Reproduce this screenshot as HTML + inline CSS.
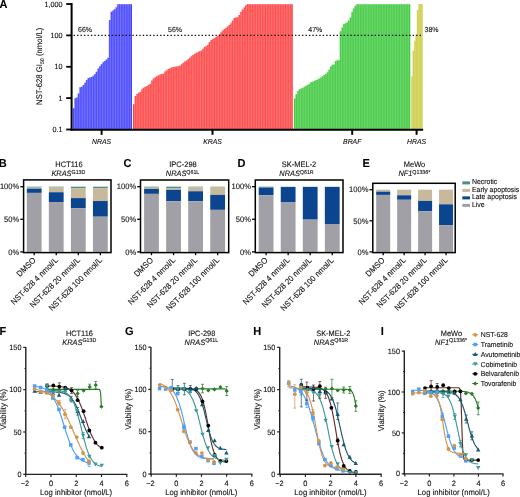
<!DOCTYPE html>
<html><head><meta charset="utf-8"><style>
html,body{margin:0;padding:0;background:#fff;width:520px;height:497px;overflow:hidden}
svg{display:block;will-change:transform}
text{font-family:"Liberation Sans", sans-serif;text-rendering:geometricPrecision;stroke:#111;stroke-width:0.1px}
</style></head><body>
<svg width="520" height="497" viewBox="0 0 520 497">
<text x="-0.40" y="7.90" font-size="11" text-anchor="start" fill="#000" font-weight="bold" font-style="normal" transform="translate(-0.40 7.90) scale(1 1.05) translate(0.40 -7.90)" >A</text>
<path d="M72.80,129.0 L72.80,108.30 L74.44,108.30 L74.44,98.31 L76.09,98.31 L76.09,97.44 L77.73,97.44 L77.73,93.62 L79.38,93.62 L79.38,87.37 L81.02,87.37 L81.02,86.76 L82.67,86.76 L82.67,85.11 L84.31,85.11 L84.31,82.74 L85.96,82.74 L85.96,80.07 L87.60,80.07 L87.60,77.92 L89.24,77.92 L89.24,77.52 L90.89,77.52 L90.89,76.99 L92.53,76.99 L92.53,75.87 L94.18,75.87 L94.18,74.05 L95.82,74.05 L95.82,71.70 L97.47,71.70 L97.47,68.52 L99.11,68.52 L99.11,66.35 L100.76,66.35 L100.76,64.22 L102.40,64.22 L102.40,62.24 L104.04,62.24 L104.04,61.08 L105.69,61.08 L105.69,59.59 L107.33,59.59 L107.33,57.69 L108.98,57.69 L108.98,19.90 L110.62,19.90 L110.62,11.82 L112.27,11.82 L112.27,10.47 L113.91,10.47 L113.91,9.22 L115.56,9.22 L115.56,7.18 L117.20,7.18 L117.20,4.20 L118.84,4.20 L118.84,4.20 L120.49,4.20 L120.49,4.20 L122.13,4.20 L122.13,4.20 L123.78,4.20 L123.78,4.20 L125.42,4.20 L125.42,4.20 L127.07,4.20 L127.07,4.20 L128.71,4.20 L128.71,4.20 L130.36,4.20 L130.36,4.20 L132.00,4.20 L132.00,129.0 Z" fill="#4242ff"/>
<path d="M74.44,98.31V129.0M76.09,97.44V129.0M77.73,93.62V129.0M79.38,87.37V129.0M81.02,86.76V129.0M82.67,85.11V129.0M84.31,82.74V129.0M85.96,80.07V129.0M87.60,77.92V129.0M89.24,77.52V129.0M90.89,76.99V129.0M92.53,75.87V129.0M94.18,74.05V129.0M95.82,71.70V129.0M97.47,68.52V129.0M99.11,66.35V129.0M100.76,64.22V129.0M102.40,62.24V129.0M104.04,61.08V129.0M105.69,59.59V129.0M107.33,57.69V129.0M108.98,19.90V129.0M110.62,11.82V129.0M112.27,10.47V129.0M113.91,9.22V129.0M115.56,7.18V129.0M117.20,4.20V129.0M118.84,4.20V129.0M120.49,4.20V129.0M122.13,4.20V129.0M123.78,4.20V129.0M125.42,4.20V129.0M127.07,4.20V129.0M128.71,4.20V129.0M130.36,4.20V129.0" stroke="#a8a8ff" stroke-width="0.5" fill="none"/>
<path d="M133.00,129.0 L133.00,104.20 L134.65,104.20 L134.65,96.05 L136.29,96.05 L136.29,93.98 L137.94,93.98 L137.94,92.83 L139.59,92.83 L139.59,92.12 L141.24,92.12 L141.24,89.36 L142.88,89.36 L142.88,87.83 L144.53,87.83 L144.53,86.81 L146.18,86.81 L146.18,85.97 L147.83,85.97 L147.83,85.05 L149.47,85.05 L149.47,83.99 L151.12,83.99 L151.12,80.56 L152.77,80.56 L152.77,78.62 L154.42,78.62 L154.42,77.34 L156.06,77.34 L156.06,76.24 L157.71,76.24 L157.71,75.26 L159.36,75.26 L159.36,74.54 L161.01,74.54 L161.01,74.08 L162.65,74.08 L162.65,73.68 L164.30,73.68 L164.30,71.53 L165.95,71.53 L165.95,70.19 L167.60,70.19 L167.60,69.09 L169.24,69.09 L169.24,68.24 L170.89,68.24 L170.89,67.44 L172.54,67.44 L172.54,67.10 L174.19,67.10 L174.19,66.85 L175.83,66.85 L175.83,66.61 L177.48,66.61 L177.48,66.36 L179.13,66.36 L179.13,65.71 L180.78,65.71 L180.78,64.26 L182.42,64.26 L182.42,62.87 L184.07,62.87 L184.07,61.56 L185.72,61.56 L185.72,60.41 L187.36,60.41 L187.36,59.15 L189.01,59.15 L189.01,57.64 L190.66,57.64 L190.66,56.16 L192.31,56.16 L192.31,54.93 L193.95,54.93 L193.95,53.80 L195.60,53.80 L195.60,52.84 L197.25,52.84 L197.25,51.93 L198.90,51.93 L198.90,51.19 L200.54,51.19 L200.54,50.45 L202.19,50.45 L202.19,48.65 L203.84,48.65 L203.84,46.94 L205.49,46.94 L205.49,45.90 L207.13,45.90 L207.13,44.85 L208.78,44.85 L208.78,42.09 L210.43,42.09 L210.43,40.12 L212.08,40.12 L212.08,38.94 L213.72,38.94 L213.72,37.88 L215.37,37.88 L215.37,36.96 L217.02,36.96 L217.02,36.04 L218.67,36.04 L218.67,34.56 L220.31,34.56 L220.31,32.33 L221.96,32.33 L221.96,30.43 L223.61,30.43 L223.61,29.05 L225.26,29.05 L225.26,27.74 L226.90,27.74 L226.90,26.38 L228.55,26.38 L228.55,25.00 L230.20,25.00 L230.20,23.36 L231.85,23.36 L231.85,20.58 L233.49,20.58 L233.49,17.97 L235.14,17.97 L235.14,17.55 L236.79,17.55 L236.79,17.13 L238.44,17.13 L238.44,15.00 L240.08,15.00 L240.08,11.96 L241.73,11.96 L241.73,9.61 L243.38,9.61 L243.38,7.44 L245.02,7.44 L245.02,5.46 L246.67,5.46 L246.67,4.20 L248.32,4.20 L248.32,4.20 L249.97,4.20 L249.97,4.20 L251.61,4.20 L251.61,4.20 L253.26,4.20 L253.26,4.20 L254.91,4.20 L254.91,4.20 L256.56,4.20 L256.56,4.20 L258.20,4.20 L258.20,4.20 L259.85,4.20 L259.85,4.20 L261.50,4.20 L261.50,4.20 L263.15,4.20 L263.15,4.20 L264.79,4.20 L264.79,4.20 L266.44,4.20 L266.44,4.20 L268.09,4.20 L268.09,4.20 L269.74,4.20 L269.74,4.20 L271.38,4.20 L271.38,4.20 L273.03,4.20 L273.03,4.20 L274.68,4.20 L274.68,4.20 L276.33,4.20 L276.33,4.20 L277.97,4.20 L277.97,4.20 L279.62,4.20 L279.62,4.20 L281.27,4.20 L281.27,4.20 L282.92,4.20 L282.92,4.20 L284.56,4.20 L284.56,4.20 L286.21,4.20 L286.21,4.20 L287.86,4.20 L287.86,4.20 L289.51,4.20 L289.51,4.20 L291.15,4.20 L291.15,4.20 L292.80,4.20 L292.80,129.0 Z" fill="#ff4242"/>
<path d="M134.65,96.05V129.0M136.29,93.98V129.0M137.94,92.83V129.0M139.59,92.12V129.0M141.24,89.36V129.0M142.88,87.83V129.0M144.53,86.81V129.0M146.18,85.97V129.0M147.83,85.05V129.0M149.47,83.99V129.0M151.12,80.56V129.0M152.77,78.62V129.0M154.42,77.34V129.0M156.06,76.24V129.0M157.71,75.26V129.0M159.36,74.54V129.0M161.01,74.08V129.0M162.65,73.68V129.0M164.30,71.53V129.0M165.95,70.19V129.0M167.60,69.09V129.0M169.24,68.24V129.0M170.89,67.44V129.0M172.54,67.10V129.0M174.19,66.85V129.0M175.83,66.61V129.0M177.48,66.36V129.0M179.13,65.71V129.0M180.78,64.26V129.0M182.42,62.87V129.0M184.07,61.56V129.0M185.72,60.41V129.0M187.36,59.15V129.0M189.01,57.64V129.0M190.66,56.16V129.0M192.31,54.93V129.0M193.95,53.80V129.0M195.60,52.84V129.0M197.25,51.93V129.0M198.90,51.19V129.0M200.54,50.45V129.0M202.19,48.65V129.0M203.84,46.94V129.0M205.49,45.90V129.0M207.13,44.85V129.0M208.78,42.09V129.0M210.43,40.12V129.0M212.08,38.94V129.0M213.72,37.88V129.0M215.37,36.96V129.0M217.02,36.04V129.0M218.67,34.56V129.0M220.31,32.33V129.0M221.96,30.43V129.0M223.61,29.05V129.0M225.26,27.74V129.0M226.90,26.38V129.0M228.55,25.00V129.0M230.20,23.36V129.0M231.85,20.58V129.0M233.49,17.97V129.0M235.14,17.55V129.0M236.79,17.13V129.0M238.44,15.00V129.0M240.08,11.96V129.0M241.73,9.61V129.0M243.38,7.44V129.0M245.02,5.46V129.0M246.67,4.20V129.0M248.32,4.20V129.0M249.97,4.20V129.0M251.61,4.20V129.0M253.26,4.20V129.0M254.91,4.20V129.0M256.56,4.20V129.0M258.20,4.20V129.0M259.85,4.20V129.0M261.50,4.20V129.0M263.15,4.20V129.0M264.79,4.20V129.0M266.44,4.20V129.0M268.09,4.20V129.0M269.74,4.20V129.0M271.38,4.20V129.0M273.03,4.20V129.0M274.68,4.20V129.0M276.33,4.20V129.0M277.97,4.20V129.0M279.62,4.20V129.0M281.27,4.20V129.0M282.92,4.20V129.0M284.56,4.20V129.0M286.21,4.20V129.0M287.86,4.20V129.0M289.51,4.20V129.0M291.15,4.20V129.0" stroke="#ffa8a8" stroke-width="0.5" fill="none"/>
<path d="M293.90,129.0 L293.90,98.60 L295.54,98.60 L295.54,94.32 L297.18,94.32 L297.18,91.00 L298.82,91.00 L298.82,89.20 L300.46,89.20 L300.46,88.39 L302.10,88.39 L302.10,87.75 L303.74,87.75 L303.74,86.69 L305.38,86.69 L305.38,85.73 L307.02,85.73 L307.02,85.08 L308.65,85.08 L308.65,83.68 L310.29,83.68 L310.29,82.08 L311.93,82.08 L311.93,81.72 L313.57,81.72 L313.57,81.12 L315.21,81.12 L315.21,80.09 L316.85,80.09 L316.85,79.38 L318.49,79.38 L318.49,78.59 L320.13,78.59 L320.13,77.47 L321.77,77.47 L321.77,76.20 L323.41,76.20 L323.41,74.93 L325.05,74.93 L325.05,73.88 L326.69,73.88 L326.69,72.20 L328.33,72.20 L328.33,69.64 L329.97,69.64 L329.97,66.43 L331.61,66.43 L331.61,64.75 L333.25,64.75 L333.25,64.47 L334.89,64.47 L334.89,60.97 L336.53,60.97 L336.53,60.30 L338.16,60.30 L338.16,60.20 L339.80,60.20 L339.80,31.30 L341.44,31.30 L341.44,27.57 L343.08,27.57 L343.08,23.94 L344.72,23.94 L344.72,23.35 L346.36,23.35 L346.36,22.30 L348.00,22.30 L348.00,20.61 L349.64,20.61 L349.64,17.50 L351.28,17.50 L351.28,11.70 L352.92,11.70 L352.92,8.57 L354.56,8.57 L354.56,5.66 L356.20,5.66 L356.20,4.20 L357.84,4.20 L357.84,4.20 L359.48,4.20 L359.48,4.20 L361.12,4.20 L361.12,4.20 L362.76,4.20 L362.76,4.20 L364.40,4.20 L364.40,4.20 L366.04,4.20 L366.04,4.20 L367.67,4.20 L367.67,4.20 L369.31,4.20 L369.31,4.20 L370.95,4.20 L370.95,4.20 L372.59,4.20 L372.59,4.20 L374.23,4.20 L374.23,4.20 L375.87,4.20 L375.87,4.20 L377.51,4.20 L377.51,4.20 L379.15,4.20 L379.15,4.20 L380.79,4.20 L380.79,4.20 L382.43,4.20 L382.43,4.20 L384.07,4.20 L384.07,4.20 L385.71,4.20 L385.71,4.20 L387.35,4.20 L387.35,4.20 L388.99,4.20 L388.99,4.20 L390.63,4.20 L390.63,4.20 L392.27,4.20 L392.27,4.20 L393.91,4.20 L393.91,4.20 L395.55,4.20 L395.55,4.20 L397.18,4.20 L397.18,4.20 L398.82,4.20 L398.82,4.20 L400.46,4.20 L400.46,4.20 L402.10,4.20 L402.10,4.20 L403.74,4.20 L403.74,4.20 L405.38,4.20 L405.38,4.20 L407.02,4.20 L407.02,4.20 L408.66,4.20 L408.66,4.20 L410.30,4.20 L410.30,129.0 Z" fill="#3fc93f"/>
<path d="M295.54,94.32V129.0M297.18,91.00V129.0M298.82,89.20V129.0M300.46,88.39V129.0M302.10,87.75V129.0M303.74,86.69V129.0M305.38,85.73V129.0M307.02,85.08V129.0M308.65,83.68V129.0M310.29,82.08V129.0M311.93,81.72V129.0M313.57,81.12V129.0M315.21,80.09V129.0M316.85,79.38V129.0M318.49,78.59V129.0M320.13,77.47V129.0M321.77,76.20V129.0M323.41,74.93V129.0M325.05,73.88V129.0M326.69,72.20V129.0M328.33,69.64V129.0M329.97,66.43V129.0M331.61,64.75V129.0M333.25,64.47V129.0M334.89,60.97V129.0M336.53,60.30V129.0M338.16,60.20V129.0M339.80,31.30V129.0M341.44,27.57V129.0M343.08,23.94V129.0M344.72,23.35V129.0M346.36,22.30V129.0M348.00,20.61V129.0M349.64,17.50V129.0M351.28,11.70V129.0M352.92,8.57V129.0M354.56,5.66V129.0M356.20,4.20V129.0M357.84,4.20V129.0M359.48,4.20V129.0M361.12,4.20V129.0M362.76,4.20V129.0M364.40,4.20V129.0M366.04,4.20V129.0M367.67,4.20V129.0M369.31,4.20V129.0M370.95,4.20V129.0M372.59,4.20V129.0M374.23,4.20V129.0M375.87,4.20V129.0M377.51,4.20V129.0M379.15,4.20V129.0M380.79,4.20V129.0M382.43,4.20V129.0M384.07,4.20V129.0M385.71,4.20V129.0M387.35,4.20V129.0M388.99,4.20V129.0M390.63,4.20V129.0M392.27,4.20V129.0M393.91,4.20V129.0M395.55,4.20V129.0M397.18,4.20V129.0M398.82,4.20V129.0M400.46,4.20V129.0M402.10,4.20V129.0M403.74,4.20V129.0M405.38,4.20V129.0M407.02,4.20V129.0M408.66,4.20V129.0" stroke="#a0e4a0" stroke-width="0.5" fill="none"/>
<path d="M411.3,129.0 L411.30,76.2 L412.73,76.2 L412.73,50.8 L414.15,50.8 L414.15,40.8 L415.57,40.8 L415.57,34.5 L417.00,34.5 L417.00,10 L418.43,10 L418.43,4.0 L419.85,4.0 L419.85,4.0 L421.27,4.0 L421.27,4.0 L422.70,4.0 L422.7,129.0 Z" fill="#cdcd4a"/>
<path d="M412.73,50.8V129.0M414.15,40.8V129.0M415.57,34.5V129.0M417.00,10V129.0M418.43,4.0V129.0M419.85,4.0V129.0M421.27,4.0V129.0" stroke="#e2e288" stroke-width="0.55" fill="none"/>
<line x1="73.6" y1="35.4" x2="423" y2="35.4" stroke="#111" stroke-width="1.3" stroke-dasharray="1.4 2.06"/>
<line x1="71.60" y1="3.00" x2="71.60" y2="130.60" stroke="#000" stroke-width="2" />
<line x1="70.60" y1="129.70" x2="423.20" y2="129.70" stroke="#000" stroke-width="2" />
<line x1="66.20" y1="4.00" x2="71.60" y2="4.00" stroke="#000" stroke-width="1.8" />
<text x="62.40" y="6.60" font-size="7.2" text-anchor="end" fill="#0e0e0e" font-weight="normal" font-style="normal" transform="translate(62.40 6.60) scale(1 1.05) translate(-62.40 -6.60)" >1,000</text>
<line x1="66.20" y1="35.40" x2="71.60" y2="35.40" stroke="#000" stroke-width="1.8" />
<text x="62.40" y="38.00" font-size="7.2" text-anchor="end" fill="#0e0e0e" font-weight="normal" font-style="normal" transform="translate(62.40 38.00) scale(1 1.05) translate(-62.40 -38.00)" >100</text>
<line x1="66.20" y1="66.80" x2="71.60" y2="66.80" stroke="#000" stroke-width="1.8" />
<text x="62.40" y="69.40" font-size="7.2" text-anchor="end" fill="#0e0e0e" font-weight="normal" font-style="normal" transform="translate(62.40 69.40) scale(1 1.05) translate(-62.40 -69.40)" >10</text>
<line x1="66.20" y1="98.10" x2="71.60" y2="98.10" stroke="#000" stroke-width="1.8" />
<text x="62.40" y="100.70" font-size="7.2" text-anchor="end" fill="#0e0e0e" font-weight="normal" font-style="normal" transform="translate(62.40 100.70) scale(1 1.05) translate(-62.40 -100.70)" >1</text>
<line x1="66.20" y1="129.50" x2="71.60" y2="129.50" stroke="#000" stroke-width="1.8" />
<text x="62.40" y="132.10" font-size="7.2" text-anchor="end" fill="#0e0e0e" font-weight="normal" font-style="normal" transform="translate(62.40 132.10) scale(1 1.05) translate(-62.40 -132.10)" >0.1</text>
<text x="42.30" y="66.30" font-size="7.75" text-anchor="middle" fill="#0e0e0e" font-weight="normal" font-style="normal" transform="rotate(-90 42.30 66.30) translate(42.30 66.30) scale(1 1.05) translate(-42.30 -66.30)" >NST-628 GI<tspan font-size="5.2" dy="1.8">50</tspan><tspan dy="-1.8"> (nmol/L)</tspan></text>
<line x1="101.60" y1="130.00" x2="101.60" y2="134.80" stroke="#000" stroke-width="2" />
<text x="101.60" y="144.30" font-size="6.85" text-anchor="middle" fill="#0e0e0e" font-weight="normal" font-style="italic" transform="translate(101.60 144.30) scale(1 1.05) translate(-101.60 -144.30)" >NRAS</text>
<line x1="212.50" y1="130.00" x2="212.50" y2="134.80" stroke="#000" stroke-width="2" />
<text x="212.50" y="144.30" font-size="6.85" text-anchor="middle" fill="#0e0e0e" font-weight="normal" font-style="italic" transform="translate(212.50 144.30) scale(1 1.05) translate(-212.50 -144.30)" >KRAS</text>
<line x1="352.20" y1="130.00" x2="352.20" y2="134.80" stroke="#000" stroke-width="2" />
<text x="352.20" y="144.30" font-size="6.85" text-anchor="middle" fill="#0e0e0e" font-weight="normal" font-style="italic" transform="translate(352.20 144.30) scale(1 1.05) translate(-352.20 -144.30)" >BRAF</text>
<line x1="416.60" y1="130.00" x2="416.60" y2="134.80" stroke="#000" stroke-width="2" />
<text x="416.60" y="144.30" font-size="6.85" text-anchor="middle" fill="#0e0e0e" font-weight="normal" font-style="italic" transform="translate(416.60 144.30) scale(1 1.05) translate(-416.60 -144.30)" >HRAS</text>
<text x="85.00" y="31.70" font-size="7.0" text-anchor="middle" fill="#0e0e0e" font-weight="normal" font-style="normal" transform="translate(85.00 31.70) scale(1 1.05) translate(-85.00 -31.70)" >66%</text>
<text x="175.00" y="31.70" font-size="7.0" text-anchor="middle" fill="#0e0e0e" font-weight="normal" font-style="normal" transform="translate(175.00 31.70) scale(1 1.05) translate(-175.00 -31.70)" >56%</text>
<text x="315.30" y="31.70" font-size="7.0" text-anchor="middle" fill="#0e0e0e" font-weight="normal" font-style="normal" transform="translate(315.30 31.70) scale(1 1.05) translate(-315.30 -31.70)" >47%</text>
<text x="431.50" y="31.70" font-size="7.0" text-anchor="middle" fill="#0e0e0e" font-weight="normal" font-style="normal" transform="translate(431.50 31.70) scale(1 1.05) translate(-431.50 -31.70)" >38%</text>
<text x="-1.30" y="167.40" font-size="11" text-anchor="start" fill="#000" font-weight="bold" font-style="normal" transform="translate(-1.30 167.40) scale(1 1.05) translate(1.30 -167.40)" >B</text>
<text x="69.00" y="167.30" font-size="7.5" text-anchor="middle" fill="#0e0e0e" font-weight="normal" font-style="normal" transform="translate(69.00 167.30) scale(1 1.05) translate(-69.00 -167.30)" >HCT116</text>
<text x="51.40" y="175.90" font-size="7.4" text-anchor="start" fill="#0e0e0e" font-weight="normal" font-style="italic" transform="translate(51.40 175.90) scale(1 1.05) translate(-51.40 -175.90)" >KRAS<tspan font-size="5.3" font-style="normal" dy="-2.2">G13D</tspan></text>
<rect x="26.80" y="186.70" width="14.8" height="0.91" fill="#4a8f80"/>
<rect x="26.80" y="187.61" width="14.8" height="1.04" fill="#c8b89c"/>
<rect x="26.80" y="188.66" width="14.8" height="4.24" fill="#0b4590"/>
<rect x="26.80" y="192.89" width="14.8" height="59.01" fill="#a1a0a6"/>
<line x1="34.20" y1="252.60" x2="34.20" y2="255.20" stroke="#000" stroke-width="1.3" />
<text x="36.40" y="260.80" font-size="7.8" text-anchor="end" fill="#0e0e0e" font-weight="normal" font-style="normal" transform="rotate(-45 36.40 260.80) translate(36.40 260.80) scale(1 1.05) translate(-36.40 -260.80)" >DMSO</text>
<rect x="48.85" y="186.70" width="14.8" height="0.78" fill="#4a8f80"/>
<rect x="48.85" y="187.48" width="14.8" height="4.76" fill="#c8b89c"/>
<rect x="48.85" y="192.24" width="14.8" height="9.78" fill="#0b4590"/>
<rect x="48.85" y="202.02" width="14.8" height="49.88" fill="#a1a0a6"/>
<line x1="56.25" y1="252.60" x2="56.25" y2="255.20" stroke="#000" stroke-width="1.3" />
<text x="58.45" y="260.80" font-size="7.8" text-anchor="end" fill="#0e0e0e" font-weight="normal" font-style="normal" transform="rotate(-45 58.45 260.80) translate(58.45 260.80) scale(1 1.05) translate(-58.45 -260.80)" >NST-628 4 nmol/L</text>
<rect x="70.90" y="186.70" width="14.8" height="1.63" fill="#4a8f80"/>
<rect x="70.90" y="188.33" width="14.8" height="9.78" fill="#c8b89c"/>
<rect x="70.90" y="198.11" width="14.8" height="10.11" fill="#0b4590"/>
<rect x="70.90" y="208.22" width="14.8" height="43.68" fill="#a1a0a6"/>
<line x1="78.30" y1="252.60" x2="78.30" y2="255.20" stroke="#000" stroke-width="1.3" />
<text x="80.50" y="260.80" font-size="7.8" text-anchor="end" fill="#0e0e0e" font-weight="normal" font-style="normal" transform="rotate(-45 80.50 260.80) translate(80.50 260.80) scale(1 1.05) translate(-80.50 -260.80)" >NST-628 20 nmol/L</text>
<rect x="92.95" y="186.70" width="14.8" height="1.50" fill="#4a8f80"/>
<rect x="92.95" y="188.20" width="14.8" height="12.84" fill="#c8b89c"/>
<rect x="92.95" y="201.04" width="14.8" height="15.65" fill="#0b4590"/>
<rect x="92.95" y="216.69" width="14.8" height="35.21" fill="#a1a0a6"/>
<line x1="100.35" y1="252.60" x2="100.35" y2="255.20" stroke="#000" stroke-width="1.3" />
<text x="102.55" y="260.80" font-size="7.8" text-anchor="end" fill="#0e0e0e" font-weight="normal" font-style="normal" transform="rotate(-45 102.55 260.80) translate(102.55 260.80) scale(1 1.05) translate(-102.55 -260.80)" >NST-628 100 nmol/L</text>
<rect x="23.60" y="179.90" width="87.40" height="72.70" fill="none" stroke="#000" stroke-width="1.5"/>
<line x1="20.30" y1="251.90" x2="23.60" y2="251.90" stroke="#000" stroke-width="1.3" />
<text x="19.30" y="254.60" font-size="7.6" text-anchor="end" fill="#0e0e0e" font-weight="normal" font-style="normal" transform="translate(19.30 254.60) scale(1 1.05) translate(-19.30 -254.60)" >0%</text>
<line x1="20.30" y1="219.30" x2="23.60" y2="219.30" stroke="#000" stroke-width="1.3" />
<text x="19.30" y="222.00" font-size="7.6" text-anchor="end" fill="#0e0e0e" font-weight="normal" font-style="normal" transform="translate(19.30 222.00) scale(1 1.05) translate(-19.30 -222.00)" >50%</text>
<line x1="20.30" y1="186.70" x2="23.60" y2="186.70" stroke="#000" stroke-width="1.3" />
<text x="19.30" y="189.40" font-size="7.6" text-anchor="end" fill="#0e0e0e" font-weight="normal" font-style="normal" transform="translate(19.30 189.40) scale(1 1.05) translate(-19.30 -189.40)" >100%</text>
<text x="123.40" y="167.40" font-size="11" text-anchor="start" fill="#000" font-weight="bold" font-style="normal" transform="translate(123.40 167.40) scale(1 1.05) translate(-123.40 -167.40)" >C</text>
<text x="183.00" y="167.30" font-size="7.5" text-anchor="middle" fill="#0e0e0e" font-weight="normal" font-style="normal" transform="translate(183.00 167.30) scale(1 1.05) translate(-183.00 -167.30)" >IPC-298</text>
<text x="165.80" y="175.90" font-size="7.4" text-anchor="start" fill="#0e0e0e" font-weight="normal" font-style="italic" transform="translate(165.80 175.90) scale(1 1.05) translate(-165.80 -175.90)" >NRAS<tspan font-size="5.3" font-style="normal" dy="-2.2">Q61L</tspan></text>
<rect x="144.10" y="186.70" width="14.8" height="0.91" fill="#4a8f80"/>
<rect x="144.10" y="187.61" width="14.8" height="1.37" fill="#c8b89c"/>
<rect x="144.10" y="188.98" width="14.8" height="4.89" fill="#0b4590"/>
<rect x="144.10" y="193.87" width="14.8" height="58.03" fill="#a1a0a6"/>
<line x1="151.50" y1="252.60" x2="151.50" y2="255.20" stroke="#000" stroke-width="1.3" />
<text x="153.70" y="260.80" font-size="7.8" text-anchor="end" fill="#0e0e0e" font-weight="normal" font-style="normal" transform="rotate(-45 153.70 260.80) translate(153.70 260.80) scale(1 1.05) translate(-153.70 -260.80)" >DMSO</text>
<rect x="166.15" y="186.70" width="14.8" height="1.70" fill="#4a8f80"/>
<rect x="166.15" y="188.40" width="14.8" height="1.43" fill="#c8b89c"/>
<rect x="166.15" y="189.83" width="14.8" height="11.34" fill="#0b4590"/>
<rect x="166.15" y="201.17" width="14.8" height="50.73" fill="#a1a0a6"/>
<line x1="173.55" y1="252.60" x2="173.55" y2="255.20" stroke="#000" stroke-width="1.3" />
<text x="175.75" y="260.80" font-size="7.8" text-anchor="end" fill="#0e0e0e" font-weight="normal" font-style="normal" transform="rotate(-45 175.75 260.80) translate(175.75 260.80) scale(1 1.05) translate(-175.75 -260.80)" >NST-628 4 nmol/L</text>
<rect x="188.20" y="186.70" width="14.8" height="0.72" fill="#4a8f80"/>
<rect x="188.20" y="187.42" width="14.8" height="3.85" fill="#c8b89c"/>
<rect x="188.20" y="191.26" width="14.8" height="9.91" fill="#0b4590"/>
<rect x="188.20" y="201.17" width="14.8" height="50.73" fill="#a1a0a6"/>
<line x1="195.60" y1="252.60" x2="195.60" y2="255.20" stroke="#000" stroke-width="1.3" />
<text x="197.80" y="260.80" font-size="7.8" text-anchor="end" fill="#0e0e0e" font-weight="normal" font-style="normal" transform="rotate(-45 197.80 260.80) translate(197.80 260.80) scale(1 1.05) translate(-197.80 -260.80)" >NST-628 20 nmol/L</text>
<rect x="210.25" y="186.70" width="14.8" height="0.26" fill="#4a8f80"/>
<rect x="210.25" y="186.96" width="14.8" height="7.89" fill="#c8b89c"/>
<rect x="210.25" y="194.85" width="14.8" height="15.00" fill="#0b4590"/>
<rect x="210.25" y="209.85" width="14.8" height="42.05" fill="#a1a0a6"/>
<line x1="217.65" y1="252.60" x2="217.65" y2="255.20" stroke="#000" stroke-width="1.3" />
<text x="219.85" y="260.80" font-size="7.8" text-anchor="end" fill="#0e0e0e" font-weight="normal" font-style="normal" transform="rotate(-45 219.85 260.80) translate(219.85 260.80) scale(1 1.05) translate(-219.85 -260.80)" >NST-628 100 nmol/L</text>
<rect x="140.50" y="180.00" width="88.20" height="72.60" fill="none" stroke="#000" stroke-width="1.5"/>
<line x1="137.20" y1="251.90" x2="140.50" y2="251.90" stroke="#000" stroke-width="1.3" />
<text x="136.20" y="254.60" font-size="7.6" text-anchor="end" fill="#0e0e0e" font-weight="normal" font-style="normal" transform="translate(136.20 254.60) scale(1 1.05) translate(-136.20 -254.60)" >0%</text>
<line x1="137.20" y1="219.30" x2="140.50" y2="219.30" stroke="#000" stroke-width="1.3" />
<text x="136.20" y="222.00" font-size="7.6" text-anchor="end" fill="#0e0e0e" font-weight="normal" font-style="normal" transform="translate(136.20 222.00) scale(1 1.05) translate(-136.20 -222.00)" >50%</text>
<line x1="137.20" y1="186.70" x2="140.50" y2="186.70" stroke="#000" stroke-width="1.3" />
<text x="136.20" y="189.40" font-size="7.6" text-anchor="end" fill="#0e0e0e" font-weight="normal" font-style="normal" transform="translate(136.20 189.40) scale(1 1.05) translate(-136.20 -189.40)" >100%</text>
<text x="237.40" y="167.40" font-size="11" text-anchor="start" fill="#000" font-weight="bold" font-style="normal" transform="translate(237.40 167.40) scale(1 1.05) translate(-237.40 -167.40)" >D</text>
<text x="299.00" y="167.30" font-size="7.5" text-anchor="middle" fill="#0e0e0e" font-weight="normal" font-style="normal" transform="translate(299.00 167.30) scale(1 1.05) translate(-299.00 -167.30)" >SK-MEL-2</text>
<text x="279.30" y="175.90" font-size="7.4" text-anchor="start" fill="#0e0e0e" font-weight="normal" font-style="italic" transform="translate(279.30 175.90) scale(1 1.05) translate(-279.30 -175.90)" >NRAS<tspan font-size="5.3" font-style="normal" dy="-2.2">Q61R</tspan></text>
<rect x="258.70" y="186.70" width="14.8" height="0.33" fill="#4a8f80"/>
<rect x="258.70" y="187.03" width="14.8" height="0.46" fill="#c8b89c"/>
<rect x="258.70" y="187.48" width="14.8" height="7.69" fill="#0b4590"/>
<rect x="258.70" y="195.18" width="14.8" height="56.72" fill="#a1a0a6"/>
<line x1="266.10" y1="252.60" x2="266.10" y2="255.20" stroke="#000" stroke-width="1.3" />
<text x="268.30" y="260.80" font-size="7.8" text-anchor="end" fill="#0e0e0e" font-weight="normal" font-style="normal" transform="rotate(-45 268.30 260.80) translate(268.30 260.80) scale(1 1.05) translate(-268.30 -260.80)" >DMSO</text>
<rect x="280.75" y="186.70" width="14.8" height="0.20" fill="#4a8f80"/>
<rect x="280.75" y="186.90" width="14.8" height="0.13" fill="#c8b89c"/>
<rect x="280.75" y="187.03" width="14.8" height="15.39" fill="#0b4590"/>
<rect x="280.75" y="202.41" width="14.8" height="49.49" fill="#a1a0a6"/>
<line x1="288.15" y1="252.60" x2="288.15" y2="255.20" stroke="#000" stroke-width="1.3" />
<text x="290.35" y="260.80" font-size="7.8" text-anchor="end" fill="#0e0e0e" font-weight="normal" font-style="normal" transform="rotate(-45 290.35 260.80) translate(290.35 260.80) scale(1 1.05) translate(-290.35 -260.80)" >NST-628 4 nmol/L</text>
<rect x="302.80" y="186.70" width="14.8" height="0.13" fill="#4a8f80"/>
<rect x="302.80" y="186.83" width="14.8" height="0.13" fill="#c8b89c"/>
<rect x="302.80" y="186.96" width="14.8" height="32.67" fill="#0b4590"/>
<rect x="302.80" y="219.63" width="14.8" height="32.27" fill="#a1a0a6"/>
<line x1="310.20" y1="252.60" x2="310.20" y2="255.20" stroke="#000" stroke-width="1.3" />
<text x="312.40" y="260.80" font-size="7.8" text-anchor="end" fill="#0e0e0e" font-weight="normal" font-style="normal" transform="rotate(-45 312.40 260.80) translate(312.40 260.80) scale(1 1.05) translate(-312.40 -260.80)" >NST-628 20 nmol/L</text>
<rect x="324.85" y="186.70" width="14.8" height="0.13" fill="#4a8f80"/>
<rect x="324.85" y="186.83" width="14.8" height="0.13" fill="#c8b89c"/>
<rect x="324.85" y="186.96" width="14.8" height="37.03" fill="#0b4590"/>
<rect x="324.85" y="223.99" width="14.8" height="27.91" fill="#a1a0a6"/>
<line x1="332.25" y1="252.60" x2="332.25" y2="255.20" stroke="#000" stroke-width="1.3" />
<text x="334.45" y="260.80" font-size="7.8" text-anchor="end" fill="#0e0e0e" font-weight="normal" font-style="normal" transform="rotate(-45 334.45 260.80) translate(334.45 260.80) scale(1 1.05) translate(-334.45 -260.80)" >NST-628 100 nmol/L</text>
<rect x="255.30" y="180.00" width="87.70" height="72.60" fill="none" stroke="#000" stroke-width="1.5"/>
<line x1="252.00" y1="251.90" x2="255.30" y2="251.90" stroke="#000" stroke-width="1.3" />
<text x="251.00" y="254.60" font-size="7.6" text-anchor="end" fill="#0e0e0e" font-weight="normal" font-style="normal" transform="translate(251.00 254.60) scale(1 1.05) translate(-251.00 -254.60)" >0%</text>
<line x1="252.00" y1="219.30" x2="255.30" y2="219.30" stroke="#000" stroke-width="1.3" />
<text x="251.00" y="222.00" font-size="7.6" text-anchor="end" fill="#0e0e0e" font-weight="normal" font-style="normal" transform="translate(251.00 222.00) scale(1 1.05) translate(-251.00 -222.00)" >50%</text>
<line x1="252.00" y1="186.70" x2="255.30" y2="186.70" stroke="#000" stroke-width="1.3" />
<text x="251.00" y="189.40" font-size="7.6" text-anchor="end" fill="#0e0e0e" font-weight="normal" font-style="normal" transform="translate(251.00 189.40) scale(1 1.05) translate(-251.00 -189.40)" >100%</text>
<text x="362.60" y="167.40" font-size="11" text-anchor="start" fill="#000" font-weight="bold" font-style="normal" transform="translate(362.60 167.40) scale(1 1.05) translate(-362.60 -167.40)" >E</text>
<text x="414.50" y="167.30" font-size="7.5" text-anchor="middle" fill="#0e0e0e" font-weight="normal" font-style="normal" transform="translate(414.50 167.30) scale(1 1.05) translate(-414.50 -167.30)" >MeWo</text>
<text x="398.40" y="175.90" font-size="7.4" text-anchor="start" fill="#0e0e0e" font-weight="normal" font-style="italic" transform="translate(398.40 175.90) scale(1 1.05) translate(-398.40 -175.90)" >NF1<tspan font-size="5.3" font-style="normal" dy="-2.2">Q1336*</tspan></text>
<rect x="376.20" y="189.70" width="14.0" height="0.06" fill="#4a8f80"/>
<rect x="376.20" y="189.76" width="14.0" height="1.93" fill="#c8b89c"/>
<rect x="376.20" y="191.69" width="14.0" height="3.23" fill="#0b4590"/>
<rect x="376.20" y="194.92" width="14.0" height="56.98" fill="#a1a0a6"/>
<line x1="383.20" y1="252.60" x2="383.20" y2="255.20" stroke="#000" stroke-width="1.3" />
<text x="385.40" y="260.80" font-size="7.8" text-anchor="end" fill="#0e0e0e" font-weight="normal" font-style="normal" transform="rotate(-45 385.40 260.80) translate(385.40 260.80) scale(1 1.05) translate(-385.40 -260.80)" >DMSO</text>
<rect x="397.15" y="189.70" width="14.0" height="0.06" fill="#4a8f80"/>
<rect x="397.15" y="189.76" width="14.0" height="5.54" fill="#c8b89c"/>
<rect x="397.15" y="195.30" width="14.0" height="4.48" fill="#0b4590"/>
<rect x="397.15" y="199.78" width="14.0" height="52.12" fill="#a1a0a6"/>
<line x1="404.15" y1="252.60" x2="404.15" y2="255.20" stroke="#000" stroke-width="1.3" />
<text x="406.35" y="260.80" font-size="7.8" text-anchor="end" fill="#0e0e0e" font-weight="normal" font-style="normal" transform="rotate(-45 406.35 260.80) translate(406.35 260.80) scale(1 1.05) translate(-406.35 -260.80)" >NST-628 4 nmol/L</text>
<rect x="418.10" y="189.70" width="14.0" height="0.06" fill="#4a8f80"/>
<rect x="418.10" y="189.76" width="14.0" height="11.13" fill="#c8b89c"/>
<rect x="418.10" y="200.90" width="14.0" height="10.45" fill="#0b4590"/>
<rect x="418.10" y="211.35" width="14.0" height="40.55" fill="#a1a0a6"/>
<line x1="425.10" y1="252.60" x2="425.10" y2="255.20" stroke="#000" stroke-width="1.3" />
<text x="427.30" y="260.80" font-size="7.8" text-anchor="end" fill="#0e0e0e" font-weight="normal" font-style="normal" transform="rotate(-45 427.30 260.80) translate(427.30 260.80) scale(1 1.05) translate(-427.30 -260.80)" >NST-628 20 nmol/L</text>
<rect x="439.05" y="189.70" width="14.0" height="0.06" fill="#4a8f80"/>
<rect x="439.05" y="189.76" width="14.0" height="14.55" fill="#c8b89c"/>
<rect x="439.05" y="204.32" width="14.0" height="20.84" fill="#0b4590"/>
<rect x="439.05" y="225.15" width="14.0" height="26.75" fill="#a1a0a6"/>
<line x1="446.05" y1="252.60" x2="446.05" y2="255.20" stroke="#000" stroke-width="1.3" />
<text x="448.25" y="260.80" font-size="7.8" text-anchor="end" fill="#0e0e0e" font-weight="normal" font-style="normal" transform="rotate(-45 448.25 260.80) translate(448.25 260.80) scale(1 1.05) translate(-448.25 -260.80)" >NST-628 100 nmol/L</text>
<rect x="372.80" y="183.30" width="82.40" height="69.30" fill="none" stroke="#000" stroke-width="1.5"/>
<line x1="369.50" y1="251.90" x2="372.80" y2="251.90" stroke="#000" stroke-width="1.3" />
<text x="368.50" y="254.60" font-size="7.6" text-anchor="end" fill="#0e0e0e" font-weight="normal" font-style="normal" transform="translate(368.50 254.60) scale(1 1.05) translate(-368.50 -254.60)" >0%</text>
<line x1="369.50" y1="220.80" x2="372.80" y2="220.80" stroke="#000" stroke-width="1.3" />
<text x="368.50" y="223.50" font-size="7.6" text-anchor="end" fill="#0e0e0e" font-weight="normal" font-style="normal" transform="translate(368.50 223.50) scale(1 1.05) translate(-368.50 -223.50)" >50%</text>
<line x1="369.50" y1="189.70" x2="372.80" y2="189.70" stroke="#000" stroke-width="1.3" />
<text x="368.50" y="192.40" font-size="7.6" text-anchor="end" fill="#0e0e0e" font-weight="normal" font-style="normal" transform="translate(368.50 192.40) scale(1 1.05) translate(-368.50 -192.40)" >100%</text>
<rect x="462.3" y="181.40" width="7.7" height="3.0" fill="#4a8f80"/>
<text x="471.90" y="184.30" font-size="6.95" text-anchor="start" fill="#0e0e0e" font-weight="normal" font-style="normal" transform="translate(471.90 184.30) scale(1 1.05) translate(-471.90 -184.30)" >Necrotic</text>
<rect x="462.3" y="188.90" width="7.7" height="3.0" fill="#c8b89c"/>
<text x="471.90" y="191.80" font-size="6.95" text-anchor="start" fill="#0e0e0e" font-weight="normal" font-style="normal" transform="translate(471.90 191.80) scale(1 1.05) translate(-471.90 -191.80)" >Early apoptosis</text>
<rect x="462.3" y="196.40" width="7.7" height="3.0" fill="#0b4590"/>
<text x="471.90" y="199.30" font-size="6.95" text-anchor="start" fill="#0e0e0e" font-weight="normal" font-style="normal" transform="translate(471.90 199.30) scale(1 1.05) translate(-471.90 -199.30)" >Late apoptosis</text>
<rect x="462.3" y="203.90" width="7.7" height="3.0" fill="#a1a0a6"/>
<text x="471.90" y="206.80" font-size="6.95" text-anchor="start" fill="#0e0e0e" font-weight="normal" font-style="normal" transform="translate(471.90 206.80) scale(1 1.05) translate(-471.90 -206.80)" >Live</text>
<text x="-0.60" y="335.20" font-size="11" text-anchor="start" fill="#000" font-weight="bold" font-style="normal" transform="translate(-0.60 335.20) scale(1 1.05) translate(0.60 -335.20)" >F</text>
<text x="79.40" y="336.30" font-size="7.4" text-anchor="middle" fill="#0e0e0e" font-weight="normal" font-style="normal" transform="translate(79.40 336.30) scale(1 1.05) translate(-79.40 -336.30)" >HCT116</text>
<text x="62.30" y="345.40" font-size="7.4" text-anchor="start" fill="#0e0e0e" font-weight="normal" font-style="italic" transform="translate(62.30 345.40) scale(1 1.05) translate(-62.30 -345.40)" >KRAS<tspan font-size="5.3" font-style="normal" dy="-3.1">G13D</tspan></text>
<path d="M47.1,389.4 L47.9,389.4 L48.7,389.4 L49.5,389.4 L50.2,389.4 L51.0,389.4 L51.8,389.4 L52.6,389.4 L53.4,389.4 L54.2,389.4 L55.0,389.4 L55.8,389.4 L56.5,389.4 L57.3,389.4 L58.1,389.4 L58.9,389.4 L59.7,389.4 L60.5,389.4 L61.3,389.4 L62.1,389.4 L62.8,389.4 L63.6,389.4 L64.4,389.4 L65.2,389.4 L66.0,389.4 L66.8,389.4 L67.6,389.4 L68.3,389.4 L69.1,389.4 L69.9,389.4 L70.7,389.4 L71.5,389.4 L72.3,389.4 L73.1,389.4 L73.9,389.4 L74.6,389.4 L75.4,389.4 L76.2,389.4 L77.0,389.4 L77.8,389.4 L78.6,389.4 L79.4,389.4 L80.2,389.4 L80.9,389.4 L81.7,389.4 L82.5,389.4 L83.3,389.4 L84.1,389.4 L84.9,389.4 L85.7,389.4 L86.4,389.4 L87.2,389.4 L88.0,389.4 L88.8,389.4 L89.6,389.4 L90.4,389.4 L91.2,389.4 L92.0,389.4 L92.7,389.4 L93.5,389.4 L94.3,389.4 L95.1,389.4 L95.9,389.4 L96.7,389.4 L97.5,389.4 L98.3,389.4 L99.0,389.4 L99.8,389.7 L100.6,393.0 L101.4,406.7" fill="none" stroke="#2a7a2a" stroke-width="1.15"/>
<path d="M47.1,385.9 L47.9,386.0 L48.7,386.0 L49.5,386.0 L50.3,386.0 L51.1,386.0 L51.9,386.0 L52.6,386.1 L53.4,386.1 L54.2,386.1 L55.0,386.1 L55.8,386.2 L56.6,386.2 L57.4,386.3 L58.2,386.4 L59.0,386.4 L59.8,386.5 L60.6,386.6 L61.4,386.7 L62.2,386.8 L63.0,387.0 L63.7,387.1 L64.5,387.3 L65.3,387.5 L66.1,387.8 L66.9,388.1 L67.7,388.4 L68.5,388.8 L69.3,389.2 L70.1,389.7 L70.9,390.2 L71.7,390.9 L72.5,391.6 L73.3,392.4 L74.1,393.2 L74.8,394.2 L75.6,395.3 L76.4,396.6 L77.2,397.9 L78.0,399.4 L78.8,401.0 L79.6,402.7 L80.4,404.6 L81.2,406.5 L82.0,408.6 L82.8,410.8 L83.6,413.1 L84.4,415.4 L85.2,417.7 L85.9,420.1 L86.7,422.4 L87.5,424.7 L88.3,427.0 L89.1,429.1 L89.9,431.2 L90.7,433.2 L91.5,435.0 L92.3,436.7 L93.1,438.3 L93.9,439.7 L94.7,441.1 L95.5,442.3 L96.3,443.3 L97.0,444.3 L97.8,445.2 L98.6,446.0 L99.4,446.6 L100.2,447.2 L101.0,447.8 L101.8,448.3" fill="none" stroke="#6b2a2a" stroke-width="1.15"/>
<path d="M34.6,391.7 L35.4,391.7 L36.2,391.7 L37.0,391.7 L37.8,391.7 L38.5,391.7 L39.3,391.7 L40.1,391.7 L40.9,391.7 L41.7,391.7 L42.5,391.7 L43.3,391.7 L44.1,391.7 L44.8,391.7 L45.6,391.7 L46.4,391.7 L47.2,391.7 L48.0,391.7 L48.8,391.7 L49.6,391.8 L50.4,391.8 L51.2,391.8 L51.9,391.8 L52.7,391.8 L53.5,391.9 L54.3,391.9 L55.1,392.0 L55.9,392.0 L56.7,392.1 L57.5,392.1 L58.3,392.2 L59.0,392.3 L59.8,392.4 L60.6,392.5 L61.4,392.7 L62.2,392.9 L63.0,393.1 L63.8,393.3 L64.6,393.5 L65.3,393.9 L66.1,394.2 L66.9,394.6 L67.7,395.1 L68.5,395.6 L69.3,396.2 L70.1,396.9 L70.9,397.7 L71.7,398.6 L72.4,399.6 L73.2,400.7 L74.0,401.9 L74.8,403.3 L75.6,404.7 L76.4,406.3 L77.2,408.1 L78.0,409.9 L78.8,411.8 L79.5,413.8 L80.3,415.9 L81.1,418.0 L81.9,420.1 L82.7,422.2 L83.5,424.2 L84.3,426.2 L85.1,428.1 L85.8,429.9 L86.6,431.6 L87.4,433.2 L88.2,434.6 L89.0,436.0" fill="none" stroke="#1a5870" stroke-width="1.15"/>
<path d="M47.1,390.2 L47.9,390.2 L48.7,390.2 L49.5,390.2 L50.3,390.2 L51.1,390.2 L51.9,390.3 L52.6,390.3 L53.4,390.3 L54.2,390.4 L55.0,390.4 L55.8,390.5 L56.6,390.5 L57.4,390.6 L58.2,390.7 L59.0,390.8 L59.8,390.9 L60.6,391.0 L61.4,391.2 L62.2,391.4 L63.0,391.6 L63.7,391.9 L64.5,392.2 L65.3,392.6 L66.1,393.0 L66.9,393.6 L67.7,394.1 L68.5,394.8 L69.3,395.6 L70.1,396.6 L70.9,397.6 L71.7,398.9 L72.5,400.2 L73.3,401.8 L74.1,403.6 L74.8,405.6 L75.6,407.7 L76.4,410.1 L77.2,412.7 L78.0,415.5 L78.8,418.4 L79.6,421.5 L80.4,424.7 L81.2,427.9 L82.0,431.2 L82.8,434.4 L83.6,437.5 L84.4,440.5 L85.2,443.4 L85.9,446.1 L86.7,448.6 L87.5,450.9 L88.3,453.0 L89.1,454.9 L89.9,456.5 L90.7,458.0 L91.5,459.3 L92.3,460.5 L93.1,461.5 L93.9,462.3 L94.7,463.1 L95.5,463.7 L96.3,464.3 L97.0,464.8 L97.8,465.2 L98.6,465.5 L99.4,465.8 L100.2,466.1 L101.0,466.3 L101.8,466.5" fill="none" stroke="#3d9a96" stroke-width="1.15"/>
<path d="M34.6,386.4 L35.4,386.5 L36.2,386.6 L37.0,386.7 L37.8,386.8 L38.5,386.9 L39.3,387.1 L40.1,387.3 L40.9,387.5 L41.7,387.8 L42.5,388.0 L43.3,388.3 L44.1,388.7 L44.8,389.1 L45.6,389.5 L46.4,390.0 L47.2,390.6 L48.0,391.2 L48.8,391.9 L49.6,392.7 L50.4,393.5 L51.2,394.5 L51.9,395.5 L52.7,396.7 L53.5,398.0 L54.3,399.3 L55.1,400.9 L55.9,402.5 L56.7,404.3 L57.5,406.1 L58.3,408.1 L59.0,410.3 L59.8,412.5 L60.6,414.8 L61.4,417.2 L62.2,419.7 L63.0,422.2 L63.8,424.7 L64.6,427.2 L65.3,429.7 L66.1,432.2 L66.9,434.6 L67.7,436.9 L68.5,439.2 L69.3,441.3 L70.1,443.3 L70.9,445.3 L71.7,447.0 L72.4,448.7 L73.2,450.2 L74.0,451.7 L74.8,453.0 L75.6,454.1 L76.4,455.2 L77.2,456.2 L78.0,457.1 L78.8,457.9 L79.5,458.6 L80.3,459.2 L81.1,459.8 L81.9,460.3 L82.7,460.7 L83.5,461.2 L84.3,461.5 L85.1,461.8 L85.8,462.1 L86.6,462.4 L87.4,462.6 L88.2,462.8 L89.0,462.9" fill="none" stroke="#4d9fff" stroke-width="1.15"/>
<path d="M34.6,389.3 L35.4,389.4 L36.2,389.5 L37.0,389.7 L37.8,389.8 L38.5,390.0 L39.3,390.2 L40.1,390.4 L40.9,390.6 L41.7,390.8 L42.5,391.1 L43.3,391.4 L44.1,391.7 L44.8,392.0 L45.6,392.3 L46.4,392.7 L47.2,393.1 L48.0,393.5 L48.8,394.0 L49.6,394.5 L50.4,395.0 L51.2,395.5 L51.9,396.1 L52.7,396.8 L53.5,397.5 L54.3,398.2 L55.1,399.0 L55.9,399.8 L56.7,400.7 L57.5,401.6 L58.3,402.6 L59.0,403.7 L59.8,404.8 L60.6,405.9 L61.4,407.1 L62.2,408.4 L63.0,409.8 L63.8,411.1 L64.6,412.6 L65.3,414.1 L66.1,415.6 L66.9,417.2 L67.7,418.8 L68.5,420.5 L69.3,422.2 L70.1,424.0 L70.9,425.7 L71.7,427.5 L72.4,429.3 L73.2,431.2 L74.0,433.0 L74.8,434.8 L75.6,436.6 L76.4,438.4 L77.2,440.2 L78.0,441.9 L78.8,443.6 L79.5,445.3 L80.3,446.9 L81.1,448.5 L81.9,450.1 L82.7,451.6 L83.5,453.0 L84.3,454.4 L85.1,455.7 L85.8,457.0 L86.6,458.2 L87.4,459.4 L88.2,460.5 L89.0,461.5" fill="none" stroke="#d4944a" stroke-width="1.15"/>
<path d="M65.00,409.70V418.70M63.50,409.70H66.50M63.50,418.70H66.50" stroke="#d4944a" stroke-width="0.9" stroke-opacity="0.8" fill="none"/>
<path d="M59.00,400.50V405.30M57.50,400.50H60.50M57.50,405.30H60.50" stroke="#d4944a" stroke-width="0.9" stroke-opacity="0.8" fill="none"/>
<path d="M59.30,382.80V390.00M57.80,382.80H60.80M57.80,390.00H60.80" stroke="#6b2a2a" stroke-width="0.9" stroke-opacity="0.8" fill="none"/>
<path d="M71.60,387.60V393.60M70.10,387.60H73.10M70.10,393.60H73.10" stroke="#6b2a2a" stroke-width="0.9" stroke-opacity="0.8" fill="none"/>
<path d="M89.70,384.20V389.60M88.20,384.20H91.20M88.20,389.60H91.20" stroke="#2a7a2a" stroke-width="0.9" stroke-opacity="0.8" fill="none"/>
<path d="M95.70,381.40V388.80M94.20,381.40H97.20M94.20,388.80H97.20" stroke="#2a7a2a" stroke-width="0.9" stroke-opacity="0.8" fill="none"/>
<path d="M77.60,390.40V396.80M76.10,390.40H79.10M76.10,396.80H79.10" stroke="#2a7a2a" stroke-width="0.9" stroke-opacity="0.8" fill="none"/>
<path d="M83.20,432.50V438.50M81.70,432.50H84.70M81.70,438.50H84.70" stroke="#3d9a96" stroke-width="0.9" stroke-opacity="0.8" fill="none"/>
<path d="M89.00,460.00V466.50M87.50,460.00H90.50M87.50,466.50H90.50" stroke="#4d9fff" stroke-width="0.9" stroke-opacity="0.8" fill="none"/>
<path d="M77.60,407.50V415.00M76.10,407.50H79.10M76.10,415.00H79.10" stroke="#1a5870" stroke-width="0.9" stroke-opacity="0.8" fill="none"/>
<path d="M53.00,390.50V396.00M51.50,390.50H54.50M51.50,396.00H54.50" stroke="#1a5870" stroke-width="0.9" stroke-opacity="0.8" fill="none"/>
<path d="M47.10,383.50V388.50M45.60,383.50H48.60M45.60,388.50H48.60" stroke="#3d9a96" stroke-width="0.9" stroke-opacity="0.8" fill="none"/>
<path d="M71.30,396.30V402.00M69.80,396.30H72.80M69.80,402.00H72.80" stroke="#1a5870" stroke-width="0.9" stroke-opacity="0.8" fill="none"/>
<path d="M47.10,387.50 L49.20,389.60 L47.10,391.70 L45.00,389.60 Z" fill="#2a7a2a"/>
<path d="M53.30,387.50 L55.40,389.60 L53.30,391.70 L51.20,389.60 Z" fill="#2a7a2a"/>
<path d="M59.30,387.50 L61.40,389.60 L59.30,391.70 L57.20,389.60 Z" fill="#2a7a2a"/>
<path d="M65.30,387.50 L67.40,389.60 L65.30,391.70 L63.20,389.60 Z" fill="#2a7a2a"/>
<path d="M71.00,387.80 L73.10,389.90 L71.00,392.00 L68.90,389.90 Z" fill="#2a7a2a"/>
<path d="M77.60,391.50 L79.70,393.60 L77.60,395.70 L75.50,393.60 Z" fill="#2a7a2a"/>
<path d="M83.60,388.50 L85.70,390.60 L83.60,392.70 L81.50,390.60 Z" fill="#2a7a2a"/>
<path d="M89.70,384.80 L91.80,386.90 L89.70,389.00 L87.60,386.90 Z" fill="#2a7a2a"/>
<path d="M95.70,383.00 L97.80,385.10 L95.70,387.20 L93.60,385.10 Z" fill="#2a7a2a"/>
<path d="M101.40,404.60 L103.50,406.70 L101.40,408.80 L99.30,406.70 Z" fill="#2a7a2a"/>
<circle cx="47.10" cy="385.90" r="1.90" fill="#000"/>
<circle cx="53.30" cy="385.50" r="1.90" fill="#000"/>
<circle cx="59.30" cy="386.60" r="1.90" fill="#000"/>
<circle cx="65.30" cy="387.70" r="1.90" fill="#000"/>
<circle cx="71.60" cy="390.60" r="1.90" fill="#000"/>
<circle cx="77.60" cy="400.20" r="1.90" fill="#000"/>
<circle cx="83.60" cy="411.20" r="1.90" fill="#000"/>
<circle cx="89.30" cy="430.50" r="1.90" fill="#000"/>
<circle cx="95.40" cy="442.70" r="1.90" fill="#000"/>
<circle cx="101.80" cy="447.70" r="1.90" fill="#000"/>
<path d="M34.60,388.80 L36.80,392.76 L32.40,392.76 Z" fill="#1a5870"/>
<path d="M40.70,389.80 L42.90,393.76 L38.50,393.76 Z" fill="#1a5870"/>
<path d="M46.70,389.80 L48.90,393.76 L44.50,393.76 Z" fill="#1a5870"/>
<path d="M53.00,391.10 L55.20,395.06 L50.80,395.06 Z" fill="#1a5870"/>
<path d="M59.00,392.70 L61.20,396.66 L56.80,396.66 Z" fill="#1a5870"/>
<path d="M65.50,385.90 L67.70,389.86 L63.30,389.86 Z" fill="#1a5870"/>
<path d="M71.30,396.90 L73.50,400.86 L69.10,400.86 Z" fill="#1a5870"/>
<path d="M77.60,409.00 L79.80,412.96 L75.40,412.96 Z" fill="#1a5870"/>
<path d="M83.10,419.10 L85.30,423.06 L80.90,423.06 Z" fill="#1a5870"/>
<path d="M89.00,434.40 L91.20,438.36 L86.80,438.36 Z" fill="#1a5870"/>
<path d="M47.10,388.20 L49.30,384.24 L44.90,384.24 Z" fill="#3d9a96"/>
<path d="M53.30,394.80 L55.50,390.84 L51.10,390.84 Z" fill="#3d9a96"/>
<path d="M59.30,394.30 L61.50,390.34 L57.10,390.34 Z" fill="#3d9a96"/>
<path d="M65.30,394.30 L67.50,390.34 L63.10,390.34 Z" fill="#3d9a96"/>
<path d="M71.00,402.10 L73.20,398.14 L68.80,398.14 Z" fill="#3d9a96"/>
<path d="M77.00,413.10 L79.20,409.14 L74.80,409.14 Z" fill="#3d9a96"/>
<path d="M83.20,437.70 L85.40,433.74 L81.00,433.74 Z" fill="#3d9a96"/>
<path d="M89.30,458.70 L91.50,454.74 L87.10,454.74 Z" fill="#3d9a96"/>
<path d="M95.40,466.40 L97.60,462.44 L93.20,462.44 Z" fill="#3d9a96"/>
<path d="M101.80,467.60 L104.00,463.64 L99.60,463.64 Z" fill="#3d9a96"/>
<rect x="32.85" y="384.25" width="3.50" height="3.50" fill="#4d9fff"/>
<rect x="38.95" y="385.75" width="3.50" height="3.50" fill="#4d9fff"/>
<rect x="44.95" y="388.15" width="3.50" height="3.50" fill="#4d9fff"/>
<rect x="51.05" y="396.35" width="3.50" height="3.50" fill="#4d9fff"/>
<rect x="57.25" y="407.65" width="3.50" height="3.50" fill="#4d9fff"/>
<rect x="62.85" y="425.45" width="3.50" height="3.50" fill="#4d9fff"/>
<rect x="69.05" y="443.15" width="3.50" height="3.50" fill="#4d9fff"/>
<rect x="75.35" y="455.85" width="3.50" height="3.50" fill="#4d9fff"/>
<rect x="81.15" y="457.85" width="3.50" height="3.50" fill="#4d9fff"/>
<rect x="87.25" y="461.35" width="3.50" height="3.50" fill="#4d9fff"/>
<circle cx="34.60" cy="388.90" r="1.90" fill="#d4944a"/>
<circle cx="40.70" cy="391.70" r="1.90" fill="#d4944a"/>
<circle cx="46.70" cy="392.90" r="1.90" fill="#d4944a"/>
<circle cx="52.80" cy="395.70" r="1.90" fill="#d4944a"/>
<circle cx="59.00" cy="402.90" r="1.90" fill="#d4944a"/>
<circle cx="65.00" cy="414.20" r="1.90" fill="#d4944a"/>
<circle cx="70.80" cy="427.20" r="1.90" fill="#d4944a"/>
<circle cx="76.80" cy="437.10" r="1.90" fill="#d4944a"/>
<circle cx="83.00" cy="453.00" r="1.90" fill="#d4944a"/>
<circle cx="89.00" cy="461.50" r="1.90" fill="#d4944a"/>
<line x1="25.80" y1="346.90" x2="25.80" y2="475.10" stroke="#222" stroke-width="1.4" />
<line x1="25.10" y1="474.40" x2="127.30" y2="474.40" stroke="#222" stroke-width="1.4" />
<line x1="23.20" y1="474.30" x2="25.80" y2="474.30" stroke="#222" stroke-width="1.2" />
<text x="21.50" y="476.90" font-size="7.3" text-anchor="end" fill="#0e0e0e" font-weight="normal" font-style="normal" transform="translate(21.50 476.90) scale(1 1.05) translate(-21.50 -476.90)" >0</text>
<line x1="23.20" y1="432.00" x2="25.80" y2="432.00" stroke="#222" stroke-width="1.2" />
<text x="21.50" y="434.60" font-size="7.3" text-anchor="end" fill="#0e0e0e" font-weight="normal" font-style="normal" transform="translate(21.50 434.60) scale(1 1.05) translate(-21.50 -434.60)" >50</text>
<line x1="23.20" y1="389.70" x2="25.80" y2="389.70" stroke="#222" stroke-width="1.2" />
<text x="21.50" y="392.30" font-size="7.3" text-anchor="end" fill="#0e0e0e" font-weight="normal" font-style="normal" transform="translate(21.50 392.30) scale(1 1.05) translate(-21.50 -392.30)" >100</text>
<line x1="23.20" y1="347.40" x2="25.80" y2="347.40" stroke="#222" stroke-width="1.2" />
<text x="21.50" y="350.00" font-size="7.3" text-anchor="end" fill="#0e0e0e" font-weight="normal" font-style="normal" transform="translate(21.50 350.00) scale(1 1.05) translate(-21.50 -350.00)" >150</text>
<line x1="24.50" y1="453.15" x2="25.80" y2="453.15" stroke="#222" stroke-width="1.0" />
<line x1="24.50" y1="410.85" x2="25.80" y2="410.85" stroke="#222" stroke-width="1.0" />
<line x1="24.50" y1="368.55" x2="25.80" y2="368.55" stroke="#222" stroke-width="1.0" />
<line x1="25.70" y1="474.40" x2="25.70" y2="477.10" stroke="#222" stroke-width="1.2" />
<text x="24.90" y="486.30" font-size="7.4" text-anchor="middle" fill="#0e0e0e" font-weight="normal" font-style="normal" transform="translate(24.90 486.30) scale(1 1.05) translate(-24.90 -486.30)" >&#8722;2</text>
<line x1="50.97" y1="474.40" x2="50.97" y2="477.10" stroke="#222" stroke-width="1.2" />
<text x="50.97" y="486.30" font-size="7.4" text-anchor="middle" fill="#0e0e0e" font-weight="normal" font-style="normal" transform="translate(50.97 486.30) scale(1 1.05) translate(-50.97 -486.30)" >0</text>
<line x1="76.25" y1="474.40" x2="76.25" y2="477.10" stroke="#222" stroke-width="1.2" />
<text x="76.25" y="486.30" font-size="7.4" text-anchor="middle" fill="#0e0e0e" font-weight="normal" font-style="normal" transform="translate(76.25 486.30) scale(1 1.05) translate(-76.25 -486.30)" >2</text>
<line x1="101.52" y1="474.40" x2="101.52" y2="477.10" stroke="#222" stroke-width="1.2" />
<text x="101.52" y="486.30" font-size="7.4" text-anchor="middle" fill="#0e0e0e" font-weight="normal" font-style="normal" transform="translate(101.52 486.30) scale(1 1.05) translate(-101.52 -486.30)" >4</text>
<line x1="126.80" y1="474.40" x2="126.80" y2="477.10" stroke="#222" stroke-width="1.2" />
<text x="126.80" y="486.30" font-size="7.4" text-anchor="middle" fill="#0e0e0e" font-weight="normal" font-style="normal" transform="translate(126.80 486.30) scale(1 1.05) translate(-126.80 -486.30)" >6</text>
<text x="76.05" y="495.00" font-size="7.7" text-anchor="middle" fill="#0e0e0e" font-weight="normal" font-style="normal" transform="translate(76.05 495.00) scale(1 1.05) translate(-76.05 -495.00)" >Log inhibitor (nmol/L)</text>
<text x="6.00" y="409.35" font-size="7.8" text-anchor="middle" fill="#0e0e0e" font-weight="normal" font-style="normal" transform="rotate(-90 6.00 409.35) translate(6.00 409.35) scale(1 1.05) translate(-6.00 -409.35)" >Viability (%)</text>
<text x="125.00" y="335.20" font-size="11" text-anchor="start" fill="#000" font-weight="bold" font-style="normal" transform="translate(125.00 335.20) scale(1 1.05) translate(-125.00 -335.20)" >G</text>
<text x="201.70" y="336.30" font-size="7.4" text-anchor="middle" fill="#0e0e0e" font-weight="normal" font-style="normal" transform="translate(201.70 336.30) scale(1 1.05) translate(-201.70 -336.30)" >IPC-298</text>
<text x="184.60" y="345.40" font-size="7.4" text-anchor="start" fill="#0e0e0e" font-weight="normal" font-style="italic" transform="translate(184.60 345.40) scale(1 1.05) translate(-184.60 -345.40)" >NRAS<tspan font-size="5.3" font-style="normal" dy="-3.1">Q61L</tspan></text>
<path d="M172.0,388.9 L172.8,388.9 L173.6,388.9 L174.4,388.9 L175.2,388.9 L176.0,388.9 L176.8,388.9 L177.5,388.9 L178.3,388.9 L179.1,388.9 L179.9,388.9 L180.7,388.9 L181.5,388.9 L182.3,388.9 L183.1,388.9 L183.9,388.9 L184.7,388.9 L185.5,388.9 L186.3,388.9 L187.1,388.9 L187.9,388.9 L188.6,388.9 L189.4,388.9 L190.2,388.9 L191.0,388.9 L191.8,388.9 L192.6,388.9 L193.4,388.9 L194.2,388.9 L195.0,388.9 L195.8,388.9 L196.6,388.9 L197.4,388.9 L198.2,388.9 L199.0,388.9 L199.7,388.9 L200.5,388.9 L201.3,388.9 L202.1,388.9 L202.9,388.9 L203.7,388.9 L204.5,388.9 L205.3,388.9 L206.1,388.9 L206.9,388.9 L207.7,388.9 L208.5,388.9 L209.3,388.9 L210.1,388.9 L210.8,388.9 L211.6,388.9 L212.4,388.9 L213.2,388.9 L214.0,388.9 L214.8,388.9 L215.6,388.9 L216.4,388.9 L217.2,388.9 L218.0,388.9 L218.8,388.9 L219.6,388.9 L220.4,388.9 L221.2,388.9 L221.9,388.9 L222.7,388.9 L223.5,388.9 L224.3,388.9 L225.1,389.0 L225.9,389.3 L226.7,391.0" fill="none" stroke="#2a7a2a" stroke-width="1.15"/>
<path d="M172.0,388.8 L172.8,388.8 L173.6,388.8 L174.4,388.8 L175.2,388.8 L175.9,388.8 L176.7,388.8 L177.5,388.8 L178.3,388.8 L179.1,388.8 L179.9,388.8 L180.7,388.8 L181.5,388.8 L182.2,388.8 L183.0,388.8 L183.8,388.8 L184.6,388.8 L185.4,388.8 L186.2,388.9 L187.0,388.9 L187.8,388.9 L188.6,388.9 L189.3,389.0 L190.1,389.0 L190.9,389.1 L191.7,389.2 L192.5,389.3 L193.3,389.5 L194.1,389.7 L194.9,390.0 L195.7,390.3 L196.4,390.7 L197.2,391.2 L198.0,391.8 L198.8,392.7 L199.6,393.7 L200.4,394.9 L201.2,396.4 L202.0,398.3 L202.7,400.5 L203.5,403.2 L204.3,406.2 L205.1,409.7 L205.9,413.5 L206.7,417.7 L207.5,422.1 L208.3,426.6 L209.1,431.1 L209.8,435.4 L210.6,439.5 L211.4,443.1 L212.2,446.4 L213.0,449.3 L213.8,451.7 L214.6,453.7 L215.4,455.4 L216.2,456.8 L216.9,458.0 L217.7,458.9 L218.5,459.6 L219.3,460.2 L220.1,460.6 L220.9,461.0 L221.7,461.3 L222.5,461.5 L223.2,461.7 L224.0,461.8 L224.8,461.9 L225.6,462.0 L226.4,462.1" fill="none" stroke="#6b2a2a" stroke-width="1.15"/>
<path d="M172.0,388.0 L172.8,388.0 L173.6,388.0 L174.4,388.0 L175.2,388.0 L175.9,388.0 L176.7,388.0 L177.5,388.0 L178.3,388.0 L179.1,388.1 L179.9,388.1 L180.7,388.1 L181.5,388.1 L182.2,388.1 L183.0,388.1 L183.8,388.1 L184.6,388.2 L185.4,388.2 L186.2,388.3 L187.0,388.3 L187.8,388.4 L188.6,388.5 L189.3,388.6 L190.1,388.8 L190.9,388.9 L191.7,389.2 L192.5,389.4 L193.3,389.8 L194.1,390.2 L194.9,390.7 L195.7,391.3 L196.4,392.1 L197.2,393.0 L198.0,394.1 L198.8,395.4 L199.6,396.9 L200.4,398.7 L201.2,400.8 L202.0,403.1 L202.7,405.8 L203.5,408.6 L204.3,411.7 L205.1,415.0 L205.9,418.4 L206.7,421.7 L207.5,425.0 L208.3,428.2 L209.1,431.1 L209.8,433.8 L210.6,436.3 L211.4,438.4 L212.2,440.3 L213.0,442.0 L213.8,443.3 L214.6,444.5 L215.4,445.5 L216.2,446.3 L216.9,446.9 L217.7,447.5 L218.5,447.9 L219.3,448.3 L220.1,448.6 L220.9,448.8 L221.7,449.0 L222.5,449.1 L223.2,449.3 L224.0,449.4 L224.8,449.4 L225.6,449.5 L226.4,449.6" fill="none" stroke="#1a5870" stroke-width="1.15"/>
<path d="M171.3,387.7 L172.1,387.7 L172.9,387.8 L173.7,387.8 L174.5,387.8 L175.3,387.9 L176.1,387.9 L176.9,388.0 L177.7,388.1 L178.5,388.2 L179.3,388.3 L180.1,388.5 L180.9,388.6 L181.7,388.8 L182.5,389.1 L183.3,389.3 L184.1,389.7 L184.9,390.1 L185.7,390.5 L186.5,391.0 L187.3,391.7 L188.1,392.4 L188.9,393.3 L189.7,394.3 L190.5,395.4 L191.3,396.7 L192.1,398.2 L192.9,399.9 L193.7,401.8 L194.5,404.0 L195.3,406.3 L196.1,408.8 L196.9,411.6 L197.7,414.5 L198.5,417.6 L199.2,420.7 L200.0,423.9 L200.8,427.1 L201.6,430.3 L202.4,433.3 L203.2,436.2 L204.0,439.0 L204.8,441.6 L205.6,443.9 L206.4,446.1 L207.2,448.0 L208.0,449.7 L208.8,451.3 L209.6,452.6 L210.4,453.8 L211.2,454.8 L212.0,455.6 L212.8,456.4 L213.6,457.0 L214.4,457.6 L215.2,458.0 L216.0,458.4 L216.8,458.8 L217.6,459.0 L218.4,459.3 L219.2,459.5 L220.0,459.7 L220.8,459.8 L221.6,459.9 L222.4,460.0 L223.2,460.1 L224.0,460.2 L224.8,460.2 L225.6,460.3 L226.4,460.3" fill="none" stroke="#3d9a96" stroke-width="1.15"/>
<path d="M159.6,386.4 L160.4,386.4 L161.2,386.5 L162.0,386.6 L162.8,386.6 L163.5,386.7 L164.3,386.9 L165.1,387.0 L165.9,387.2 L166.7,387.4 L167.5,387.6 L168.3,387.9 L169.1,388.3 L169.8,388.7 L170.6,389.2 L171.4,389.7 L172.2,390.4 L173.0,391.2 L173.8,392.2 L174.6,393.2 L175.4,394.5 L176.2,396.0 L176.9,397.6 L177.7,399.5 L178.5,401.6 L179.3,403.9 L180.1,406.5 L180.9,409.3 L181.7,412.3 L182.5,415.4 L183.3,418.7 L184.0,422.0 L184.8,425.3 L185.6,428.6 L186.4,431.8 L187.2,434.8 L188.0,437.7 L188.8,440.3 L189.6,442.7 L190.3,444.9 L191.1,446.9 L191.9,448.6 L192.7,450.2 L193.5,451.5 L194.3,452.7 L195.1,453.6 L195.9,454.5 L196.7,455.2 L197.4,455.8 L198.2,456.4 L199.0,456.8 L199.8,457.2 L200.6,457.5 L201.4,457.7 L202.2,458.0 L203.0,458.1 L203.8,458.3 L204.5,458.4 L205.3,458.5 L206.1,458.6 L206.9,458.7 L207.7,458.8 L208.5,458.8 L209.3,458.9 L210.1,458.9 L210.8,458.9 L211.6,458.9 L212.4,459.0 L213.2,459.0 L214.0,459.0" fill="none" stroke="#4d9fff" stroke-width="1.15"/>
<path d="M159.6,383.5 L160.4,383.8 L161.2,384.1 L162.0,384.5 L162.8,384.9 L163.5,385.3 L164.3,385.9 L165.1,386.4 L165.9,387.1 L166.7,387.8 L167.5,388.6 L168.3,389.5 L169.1,390.5 L169.8,391.6 L170.6,392.8 L171.4,394.1 L172.2,395.6 L173.0,397.2 L173.8,398.9 L174.6,400.7 L175.4,402.6 L176.2,404.7 L176.9,406.9 L177.7,409.2 L178.5,411.6 L179.3,414.0 L180.1,416.5 L180.9,419.0 L181.7,421.6 L182.5,424.1 L183.3,426.6 L184.0,429.1 L184.8,431.4 L185.6,433.7 L186.4,435.9 L187.2,438.0 L188.0,440.0 L188.8,441.8 L189.6,443.5 L190.3,445.1 L191.1,446.5 L191.9,447.9 L192.7,449.1 L193.5,450.2 L194.3,451.2 L195.1,452.1 L195.9,452.9 L196.7,453.6 L197.4,454.3 L198.2,454.9 L199.0,455.4 L199.8,455.8 L200.6,456.2 L201.4,456.6 L202.2,456.9 L203.0,457.2 L203.8,457.5 L204.5,457.7 L205.3,457.9 L206.1,458.0 L206.9,458.2 L207.7,458.3 L208.5,458.4 L209.3,458.6 L210.1,458.6 L210.8,458.7 L211.6,458.8 L212.4,458.9 L213.2,458.9 L214.0,459.0" fill="none" stroke="#d4944a" stroke-width="1.15"/>
<path d="M172.30,379.50V388.50M170.80,379.50H173.80M170.80,388.50H173.80" stroke="#1a5870" stroke-width="0.9" stroke-opacity="0.8" fill="none"/>
<path d="M184.40,383.30V394.80M182.90,383.30H185.90M182.90,394.80H185.90" stroke="#1a5870" stroke-width="0.9" stroke-opacity="0.8" fill="none"/>
<path d="M202.50,384.30V392.80M201.00,384.30H204.00M201.00,392.80H204.00" stroke="#2a7a2a" stroke-width="0.9" stroke-opacity="0.8" fill="none"/>
<path d="M226.70,386.50V395.50M225.20,386.50H228.20M225.20,395.50H228.20" stroke="#2a7a2a" stroke-width="0.9" stroke-opacity="0.8" fill="none"/>
<path d="M190.40,385.50V392.50M188.90,385.50H191.90M188.90,392.50H191.90" stroke="#1a5870" stroke-width="0.9" stroke-opacity="0.8" fill="none"/>
<path d="M183.80,424.00V430.00M182.30,424.00H185.30M182.30,430.00H185.30" stroke="#4d9fff" stroke-width="0.9" stroke-opacity="0.8" fill="none"/>
<path d="M178.00,385.50V392.50M176.50,385.50H179.50M176.50,392.50H179.50" stroke="#1a5870" stroke-width="0.9" stroke-opacity="0.8" fill="none"/>
<path d="M172.00,386.90 L174.10,389.00 L172.00,391.10 L169.90,389.00 Z" fill="#2a7a2a"/>
<path d="M178.00,386.90 L180.10,389.00 L178.00,391.10 L175.90,389.00 Z" fill="#2a7a2a"/>
<path d="M184.40,386.90 L186.50,389.00 L184.40,391.10 L182.30,389.00 Z" fill="#2a7a2a"/>
<path d="M190.40,386.90 L192.50,389.00 L190.40,391.10 L188.30,389.00 Z" fill="#2a7a2a"/>
<path d="M196.30,386.90 L198.40,389.00 L196.30,391.10 L194.20,389.00 Z" fill="#2a7a2a"/>
<path d="M202.50,386.40 L204.60,388.50 L202.50,390.60 L200.40,388.50 Z" fill="#2a7a2a"/>
<path d="M208.30,388.40 L210.40,390.50 L208.30,392.60 L206.20,390.50 Z" fill="#2a7a2a"/>
<path d="M214.40,387.30 L216.50,389.40 L214.40,391.50 L212.30,389.40 Z" fill="#2a7a2a"/>
<path d="M220.40,385.00 L222.50,387.10 L220.40,389.20 L218.30,387.10 Z" fill="#2a7a2a"/>
<path d="M226.70,388.90 L228.80,391.00 L226.70,393.10 L224.60,391.00 Z" fill="#2a7a2a"/>
<circle cx="172.00" cy="389.00" r="1.90" fill="#000"/>
<circle cx="178.00" cy="389.00" r="1.90" fill="#000"/>
<circle cx="184.40" cy="389.00" r="1.90" fill="#000"/>
<circle cx="190.40" cy="389.00" r="1.90" fill="#000"/>
<circle cx="196.30" cy="389.00" r="1.90" fill="#000"/>
<circle cx="202.50" cy="401.50" r="1.90" fill="#000"/>
<circle cx="208.30" cy="425.60" r="1.90" fill="#000"/>
<circle cx="214.60" cy="455.00" r="1.90" fill="#000"/>
<circle cx="220.30" cy="461.10" r="1.90" fill="#000"/>
<circle cx="226.40" cy="461.10" r="1.90" fill="#000"/>
<path d="M172.00,386.80 L174.20,390.76 L169.80,390.76 Z" fill="#1a5870"/>
<path d="M178.00,386.80 L180.20,390.76 L175.80,390.76 Z" fill="#1a5870"/>
<path d="M184.40,386.80 L186.60,390.76 L182.20,390.76 Z" fill="#1a5870"/>
<path d="M190.40,386.80 L192.60,390.76 L188.20,390.76 Z" fill="#1a5870"/>
<path d="M196.20,385.70 L198.40,389.66 L194.00,389.66 Z" fill="#1a5870"/>
<path d="M202.20,402.30 L204.40,406.26 L200.00,406.26 Z" fill="#1a5870"/>
<path d="M208.30,428.00 L210.50,431.96 L206.10,431.96 Z" fill="#1a5870"/>
<path d="M214.60,438.20 L216.80,442.16 L212.40,442.16 Z" fill="#1a5870"/>
<path d="M220.30,445.80 L222.50,449.76 L218.10,449.76 Z" fill="#1a5870"/>
<path d="M226.40,450.60 L228.60,454.56 L224.20,454.56 Z" fill="#1a5870"/>
<path d="M171.30,391.20 L173.50,387.24 L169.10,387.24 Z" fill="#3d9a96"/>
<path d="M177.70,391.20 L179.90,387.24 L175.50,387.24 Z" fill="#3d9a96"/>
<path d="M184.00,391.20 L186.20,387.24 L181.80,387.24 Z" fill="#3d9a96"/>
<path d="M190.20,394.20 L192.40,390.24 L188.00,390.24 Z" fill="#3d9a96"/>
<path d="M196.20,413.10 L198.40,409.14 L194.00,409.14 Z" fill="#3d9a96"/>
<path d="M202.50,436.60 L204.70,432.64 L200.30,432.64 Z" fill="#3d9a96"/>
<path d="M208.00,450.20 L210.20,446.24 L205.80,446.24 Z" fill="#3d9a96"/>
<path d="M214.60,458.00 L216.80,454.04 L212.40,454.04 Z" fill="#3d9a96"/>
<path d="M220.30,465.20 L222.50,461.24 L218.10,461.24 Z" fill="#3d9a96"/>
<path d="M226.40,461.80 L228.60,457.84 L224.20,457.84 Z" fill="#3d9a96"/>
<rect x="157.85" y="386.85" width="3.50" height="3.50" fill="#4d9fff"/>
<rect x="163.85" y="387.35" width="3.50" height="3.50" fill="#4d9fff"/>
<rect x="169.55" y="385.85" width="3.50" height="3.50" fill="#4d9fff"/>
<rect x="175.95" y="391.85" width="3.50" height="3.50" fill="#4d9fff"/>
<rect x="182.05" y="425.35" width="3.50" height="3.50" fill="#4d9fff"/>
<rect x="188.15" y="440.45" width="3.50" height="3.50" fill="#4d9fff"/>
<rect x="194.15" y="446.85" width="3.50" height="3.50" fill="#4d9fff"/>
<rect x="200.15" y="454.85" width="3.50" height="3.50" fill="#4d9fff"/>
<rect x="206.25" y="458.95" width="3.50" height="3.50" fill="#4d9fff"/>
<rect x="212.25" y="461.55" width="3.50" height="3.50" fill="#4d9fff"/>
<circle cx="159.60" cy="385.10" r="1.90" fill="#d4944a"/>
<circle cx="165.60" cy="387.30" r="1.90" fill="#d4944a"/>
<circle cx="171.30" cy="390.30" r="1.90" fill="#d4944a"/>
<circle cx="177.70" cy="409.70" r="1.90" fill="#d4944a"/>
<circle cx="183.80" cy="431.40" r="1.90" fill="#d4944a"/>
<circle cx="189.90" cy="441.90" r="1.90" fill="#d4944a"/>
<circle cx="195.90" cy="452.80" r="1.90" fill="#d4944a"/>
<circle cx="201.90" cy="453.10" r="1.90" fill="#d4944a"/>
<circle cx="208.00" cy="459.60" r="1.90" fill="#d4944a"/>
<circle cx="214.00" cy="461.80" r="1.90" fill="#d4944a"/>
<line x1="150.90" y1="346.90" x2="150.90" y2="474.80" stroke="#222" stroke-width="1.4" />
<line x1="150.20" y1="474.10" x2="252.30" y2="474.10" stroke="#222" stroke-width="1.4" />
<line x1="148.30" y1="474.00" x2="150.90" y2="474.00" stroke="#222" stroke-width="1.2" />
<text x="146.60" y="476.60" font-size="7.3" text-anchor="end" fill="#0e0e0e" font-weight="normal" font-style="normal" transform="translate(146.60 476.60) scale(1 1.05) translate(-146.60 -476.60)" >0</text>
<line x1="148.30" y1="431.70" x2="150.90" y2="431.70" stroke="#222" stroke-width="1.2" />
<text x="146.60" y="434.30" font-size="7.3" text-anchor="end" fill="#0e0e0e" font-weight="normal" font-style="normal" transform="translate(146.60 434.30) scale(1 1.05) translate(-146.60 -434.30)" >50</text>
<line x1="148.30" y1="389.40" x2="150.90" y2="389.40" stroke="#222" stroke-width="1.2" />
<text x="146.60" y="392.00" font-size="7.3" text-anchor="end" fill="#0e0e0e" font-weight="normal" font-style="normal" transform="translate(146.60 392.00) scale(1 1.05) translate(-146.60 -392.00)" >100</text>
<line x1="148.30" y1="347.10" x2="150.90" y2="347.10" stroke="#222" stroke-width="1.2" />
<text x="146.60" y="349.70" font-size="7.3" text-anchor="end" fill="#0e0e0e" font-weight="normal" font-style="normal" transform="translate(146.60 349.70) scale(1 1.05) translate(-146.60 -349.70)" >150</text>
<line x1="149.60" y1="452.85" x2="150.90" y2="452.85" stroke="#222" stroke-width="1.0" />
<line x1="149.60" y1="410.55" x2="150.90" y2="410.55" stroke="#222" stroke-width="1.0" />
<line x1="149.60" y1="368.25" x2="150.90" y2="368.25" stroke="#222" stroke-width="1.0" />
<line x1="151.20" y1="474.10" x2="151.20" y2="476.80" stroke="#222" stroke-width="1.2" />
<text x="150.40" y="486.30" font-size="7.4" text-anchor="middle" fill="#0e0e0e" font-weight="normal" font-style="normal" transform="translate(150.40 486.30) scale(1 1.05) translate(-150.40 -486.30)" >&#8722;2</text>
<line x1="176.35" y1="474.10" x2="176.35" y2="476.80" stroke="#222" stroke-width="1.2" />
<text x="176.35" y="486.30" font-size="7.4" text-anchor="middle" fill="#0e0e0e" font-weight="normal" font-style="normal" transform="translate(176.35 486.30) scale(1 1.05) translate(-176.35 -486.30)" >0</text>
<line x1="201.50" y1="474.10" x2="201.50" y2="476.80" stroke="#222" stroke-width="1.2" />
<text x="201.50" y="486.30" font-size="7.4" text-anchor="middle" fill="#0e0e0e" font-weight="normal" font-style="normal" transform="translate(201.50 486.30) scale(1 1.05) translate(-201.50 -486.30)" >2</text>
<line x1="226.65" y1="474.10" x2="226.65" y2="476.80" stroke="#222" stroke-width="1.2" />
<text x="226.65" y="486.30" font-size="7.4" text-anchor="middle" fill="#0e0e0e" font-weight="normal" font-style="normal" transform="translate(226.65 486.30) scale(1 1.05) translate(-226.65 -486.30)" >4</text>
<line x1="251.80" y1="474.10" x2="251.80" y2="476.80" stroke="#222" stroke-width="1.2" />
<text x="251.80" y="486.30" font-size="7.4" text-anchor="middle" fill="#0e0e0e" font-weight="normal" font-style="normal" transform="translate(251.80 486.30) scale(1 1.05) translate(-251.80 -486.30)" >6</text>
<text x="201.30" y="495.00" font-size="7.7" text-anchor="middle" fill="#0e0e0e" font-weight="normal" font-style="normal" transform="translate(201.30 495.00) scale(1 1.05) translate(-201.30 -495.00)" >Log inhibitor (nmol/L)</text>
<text x="131.10" y="409.20" font-size="7.8" text-anchor="middle" fill="#0e0e0e" font-weight="normal" font-style="normal" transform="rotate(-90 131.10 409.20) translate(131.10 409.20) scale(1 1.05) translate(-131.10 -409.20)" >Viability (%)</text>
<text x="253.20" y="335.20" font-size="11" text-anchor="start" fill="#000" font-weight="bold" font-style="normal" transform="translate(253.20 335.20) scale(1 1.05) translate(-253.20 -335.20)" >H</text>
<text x="333.30" y="336.30" font-size="7.4" text-anchor="middle" fill="#0e0e0e" font-weight="normal" font-style="normal" transform="translate(333.30 336.30) scale(1 1.05) translate(-333.30 -336.30)" >SK-MEL-2</text>
<text x="313.80" y="345.40" font-size="7.4" text-anchor="start" fill="#0e0e0e" font-weight="normal" font-style="italic" transform="translate(313.80 345.40) scale(1 1.05) translate(-313.80 -345.40)" >NRAS<tspan font-size="5.3" font-style="normal" dy="-3.1">Q61R</tspan></text>
<path d="M301.3,389.2 L302.1,389.2 L302.9,389.2 L303.7,389.2 L304.5,389.2 L305.2,389.2 L306.0,389.2 L306.8,389.2 L307.6,389.2 L308.4,389.2 L309.2,389.2 L310.0,389.2 L310.8,389.2 L311.6,389.2 L312.4,389.2 L313.1,389.2 L313.9,389.2 L314.7,389.2 L315.5,389.2 L316.3,389.2 L317.1,389.2 L317.9,389.2 L318.7,389.2 L319.5,389.2 L320.3,389.2 L321.0,389.2 L321.8,389.2 L322.6,389.2 L323.4,389.2 L324.2,389.2 L325.0,389.2 L325.8,389.2 L326.6,389.2 L327.4,389.2 L328.2,389.2 L328.9,389.2 L329.7,389.2 L330.5,389.2 L331.3,389.2 L332.1,389.2 L332.9,389.2 L333.7,389.2 L334.5,389.2 L335.3,389.2 L336.1,389.2 L336.8,389.2 L337.6,389.2 L338.4,389.2 L339.2,389.2 L340.0,389.2 L340.8,389.2 L341.6,389.2 L342.4,389.3 L343.2,389.3 L344.0,389.3 L344.7,389.3 L345.5,389.3 L346.3,389.4 L347.1,389.4 L347.9,389.5 L348.7,389.7 L349.5,389.9 L350.3,390.3 L351.1,390.8 L351.9,391.6 L352.6,392.8 L353.4,394.6 L354.2,397.2 L355.0,400.8 L355.8,406.0" fill="none" stroke="#2a7a2a" stroke-width="1.15"/>
<path d="M301.3,386.9 L302.1,386.9 L302.9,386.9 L303.7,386.9 L304.5,386.9 L305.2,386.9 L306.0,386.9 L306.8,386.9 L307.6,386.9 L308.4,386.9 L309.2,387.0 L310.0,387.0 L310.8,387.0 L311.6,387.0 L312.4,387.0 L313.1,387.1 L313.9,387.1 L314.7,387.2 L315.5,387.2 L316.3,387.3 L317.1,387.4 L317.9,387.5 L318.7,387.7 L319.5,387.9 L320.3,388.1 L321.0,388.4 L321.8,388.8 L322.6,389.2 L323.4,389.8 L324.2,390.4 L325.0,391.2 L325.8,392.2 L326.6,393.4 L327.4,394.9 L328.2,396.6 L328.9,398.6 L329.7,401.0 L330.5,403.7 L331.3,406.9 L332.1,410.4 L332.9,414.3 L333.7,418.5 L334.5,423.0 L335.3,427.6 L336.1,432.3 L336.8,436.9 L337.6,441.4 L338.4,445.6 L339.2,449.5 L340.0,453.0 L340.8,456.1 L341.6,458.9 L342.4,461.3 L343.2,463.3 L344.0,465.0 L344.7,466.4 L345.5,467.6 L346.3,468.6 L347.1,469.4 L347.9,470.1 L348.7,470.6 L349.5,471.1 L350.3,471.4 L351.1,471.7 L351.9,472.0 L352.6,472.2 L353.4,472.3 L354.2,472.4 L355.0,472.5 L355.8,472.6" fill="none" stroke="#6b2a2a" stroke-width="1.15"/>
<path d="M301.3,388.4 L302.1,388.4 L302.9,388.4 L303.7,388.4 L304.5,388.4 L305.2,388.4 L306.0,388.4 L306.8,388.4 L307.6,388.4 L308.4,388.4 L309.2,388.4 L310.0,388.4 L310.8,388.4 L311.6,388.4 L312.4,388.5 L313.1,388.5 L313.9,388.5 L314.7,388.5 L315.5,388.6 L316.3,388.6 L317.1,388.7 L317.9,388.7 L318.7,388.8 L319.5,388.9 L320.3,389.0 L321.0,389.2 L321.8,389.3 L322.6,389.5 L323.4,389.8 L324.2,390.1 L325.0,390.4 L325.8,390.8 L326.6,391.3 L327.4,391.9 L328.2,392.6 L328.9,393.4 L329.7,394.4 L330.5,395.5 L331.3,396.9 L332.1,398.4 L332.9,400.2 L333.7,402.2 L334.5,404.5 L335.3,407.0 L336.1,409.8 L336.8,412.8 L337.6,416.1 L338.4,419.5 L339.2,423.1 L340.0,426.7 L340.8,430.3 L341.6,433.8 L342.4,437.2 L343.2,440.4 L344.0,443.5 L344.7,446.3 L345.5,448.8 L346.3,451.0 L347.1,453.0 L347.9,454.8 L348.7,456.3 L349.5,457.6 L350.3,458.8 L351.1,459.7 L351.9,460.6 L352.6,461.3 L353.4,461.8 L354.2,462.3 L355.0,462.7 L355.8,463.1" fill="none" stroke="#1a5870" stroke-width="1.15"/>
<path d="M301.3,389.1 L302.1,389.2 L302.9,389.2 L303.7,389.2 L304.5,389.3 L305.2,389.3 L306.0,389.4 L306.8,389.5 L307.6,389.6 L308.4,389.7 L309.2,389.9 L310.0,390.0 L310.8,390.3 L311.6,390.5 L312.4,390.8 L313.1,391.2 L313.9,391.7 L314.7,392.2 L315.5,392.8 L316.3,393.6 L317.1,394.5 L317.9,395.5 L318.7,396.8 L319.5,398.2 L320.3,399.9 L321.0,401.8 L321.8,404.0 L322.6,406.5 L323.4,409.2 L324.2,412.3 L325.0,415.6 L325.8,419.1 L326.6,422.9 L327.4,426.7 L328.2,430.7 L328.9,434.6 L329.7,438.5 L330.5,442.2 L331.3,445.8 L332.1,449.1 L332.9,452.1 L333.7,454.9 L334.5,457.4 L335.3,459.6 L336.1,461.5 L336.8,463.1 L337.6,464.6 L338.4,465.8 L339.2,466.9 L340.0,467.8 L340.8,468.5 L341.6,469.2 L342.4,469.7 L343.2,470.1 L344.0,470.5 L344.7,470.8 L345.5,471.1 L346.3,471.3 L347.1,471.5 L347.9,471.6 L348.7,471.8 L349.5,471.9 L350.3,471.9 L351.1,472.0 L351.9,472.1 L352.6,472.1 L353.4,472.2 L354.2,472.2 L355.0,472.2 L355.8,472.2" fill="none" stroke="#3d9a96" stroke-width="1.15"/>
<path d="M288.7,385.7 L289.5,385.9 L290.3,386.0 L291.1,386.2 L291.8,386.4 L292.6,386.6 L293.4,386.8 L294.2,387.1 L295.0,387.4 L295.8,387.8 L296.6,388.2 L297.4,388.7 L298.1,389.2 L298.9,389.8 L299.7,390.5 L300.5,391.3 L301.3,392.1 L302.1,393.1 L302.9,394.2 L303.7,395.4 L304.4,396.8 L305.2,398.2 L306.0,399.9 L306.8,401.7 L307.6,403.6 L308.4,405.7 L309.2,408.0 L309.9,410.4 L310.7,412.9 L311.5,415.6 L312.3,418.4 L313.1,421.3 L313.9,424.2 L314.7,427.2 L315.5,430.2 L316.2,433.1 L317.0,436.0 L317.8,438.9 L318.6,441.6 L319.4,444.2 L320.2,446.7 L321.0,449.1 L321.8,451.3 L322.5,453.3 L323.3,455.2 L324.1,456.9 L324.9,458.5 L325.7,459.9 L326.5,461.2 L327.3,462.4 L328.0,463.4 L328.8,464.3 L329.6,465.2 L330.4,465.9 L331.2,466.5 L332.0,467.1 L332.8,467.6 L333.6,468.1 L334.3,468.5 L335.1,468.8 L335.9,469.1 L336.7,469.4 L337.5,469.6 L338.3,469.8 L339.1,470.0 L339.9,470.2 L340.6,470.3 L341.4,470.4 L342.2,470.5 L343.0,470.6" fill="none" stroke="#4d9fff" stroke-width="1.15"/>
<path d="M288.7,387.9 L289.5,387.9 L290.3,387.9 L291.1,387.9 L291.8,387.9 L292.6,388.0 L293.4,388.0 L294.2,388.0 L295.0,388.1 L295.8,388.1 L296.6,388.2 L297.4,388.3 L298.1,388.4 L298.9,388.5 L299.7,388.7 L300.5,388.9 L301.3,389.1 L302.1,389.4 L302.9,389.8 L303.7,390.2 L304.4,390.8 L305.2,391.5 L306.0,392.4 L306.8,393.4 L307.6,394.7 L308.4,396.2 L309.2,398.0 L309.9,400.1 L310.7,402.6 L311.5,405.4 L312.3,408.6 L313.1,412.2 L313.9,416.1 L314.7,420.2 L315.5,424.6 L316.2,429.0 L317.0,433.4 L317.8,437.6 L318.6,441.7 L319.4,445.4 L320.2,448.8 L321.0,451.8 L321.8,454.5 L322.5,456.7 L323.3,458.7 L324.1,460.3 L324.9,461.7 L325.7,462.9 L326.5,463.8 L327.3,464.6 L328.0,465.2 L328.8,465.7 L329.6,466.1 L330.4,466.5 L331.2,466.7 L332.0,466.9 L332.8,467.1 L333.6,467.3 L334.3,467.4 L335.1,467.5 L335.9,467.5 L336.7,467.6 L337.5,467.6 L338.3,467.7 L339.1,467.7 L339.9,467.7 L340.6,467.8 L341.4,467.8 L342.2,467.8 L343.0,467.8" fill="none" stroke="#d4944a" stroke-width="1.15"/>
<path d="M294.80,384.80V408.10M293.30,384.80H296.30M293.30,408.10H296.30" stroke="#d4944a" stroke-width="0.9" stroke-opacity="0.8" fill="none"/>
<path d="M288.70,380.50V386.50M287.20,380.50H290.20M287.20,386.50H290.20" stroke="#d4944a" stroke-width="0.9" stroke-opacity="0.8" fill="none"/>
<path d="M306.80,399.50V407.50M305.30,399.50H308.30M305.30,407.50H308.30" stroke="#4d9fff" stroke-width="0.9" stroke-opacity="0.8" fill="none"/>
<path d="M300.80,387.50V395.00M299.30,387.50H302.30M299.30,395.00H302.30" stroke="#4d9fff" stroke-width="0.9" stroke-opacity="0.8" fill="none"/>
<path d="M301.30,379.20V406.90M299.80,379.20H302.80M299.80,406.90H302.80" stroke="#1a5870" stroke-width="0.9" stroke-opacity="0.8" fill="none"/>
<path d="M306.80,382.10V400.60M305.30,382.10H308.30M305.30,400.60H308.30" stroke="#6b2a2a" stroke-width="0.9" stroke-opacity="0.8" fill="none"/>
<path d="M319.80,381.50V398.30M318.30,381.50H321.30M318.30,398.30H321.30" stroke="#6b2a2a" stroke-width="0.9" stroke-opacity="0.8" fill="none"/>
<path d="M313.50,385.00V401.00M312.00,385.00H315.00M312.00,401.00H315.00" stroke="#6b2a2a" stroke-width="0.9" stroke-opacity="0.8" fill="none"/>
<path d="M325.60,387.30V398.30M324.10,387.30H327.10M324.10,398.30H327.10" stroke="#6b2a2a" stroke-width="0.9" stroke-opacity="0.8" fill="none"/>
<path d="M331.90,379.20V397.70M330.40,379.20H333.40M330.40,397.70H333.40" stroke="#2a7a2a" stroke-width="0.9" stroke-opacity="0.8" fill="none"/>
<path d="M337.70,403.00V419.60M336.20,403.00H339.20M336.20,419.60H339.20" stroke="#1a5870" stroke-width="0.9" stroke-opacity="0.8" fill="none"/>
<path d="M337.70,438.20V444.50M336.20,438.20H339.20M336.20,444.50H339.20" stroke="#6b2a2a" stroke-width="0.9" stroke-opacity="0.8" fill="none"/>
<path d="M355.80,400.80V411.30M354.30,400.80H357.30M354.30,411.30H357.30" stroke="#2a7a2a" stroke-width="0.9" stroke-opacity="0.8" fill="none"/>
<path d="M349.80,386.50V393.50M348.30,386.50H351.30M348.30,393.50H351.30" stroke="#2a7a2a" stroke-width="0.9" stroke-opacity="0.8" fill="none"/>
<path d="M343.70,387.00V393.00M342.20,387.00H345.20M342.20,393.00H345.20" stroke="#2a7a2a" stroke-width="0.9" stroke-opacity="0.8" fill="none"/>
<path d="M312.90,414.50V421.00M311.40,414.50H314.40M311.40,421.00H314.40" stroke="#4d9fff" stroke-width="0.9" stroke-opacity="0.8" fill="none"/>
<path d="M312.90,409.50V416.00M311.40,409.50H314.40M311.40,416.00H314.40" stroke="#d4944a" stroke-width="0.9" stroke-opacity="0.8" fill="none"/>
<path d="M301.30,386.90 L303.40,389.00 L301.30,391.10 L299.20,389.00 Z" fill="#2a7a2a"/>
<path d="M307.50,386.90 L309.60,389.00 L307.50,391.10 L305.40,389.00 Z" fill="#2a7a2a"/>
<path d="M313.50,386.90 L315.60,389.00 L313.50,391.10 L311.40,389.00 Z" fill="#2a7a2a"/>
<path d="M319.80,386.90 L321.90,389.00 L319.80,391.10 L317.70,389.00 Z" fill="#2a7a2a"/>
<path d="M325.60,386.90 L327.70,389.00 L325.60,391.10 L323.50,389.00 Z" fill="#2a7a2a"/>
<path d="M331.90,386.40 L334.00,388.50 L331.90,390.60 L329.80,388.50 Z" fill="#2a7a2a"/>
<path d="M337.70,388.40 L339.80,390.50 L337.70,392.60 L335.60,390.50 Z" fill="#2a7a2a"/>
<path d="M343.70,387.90 L345.80,390.00 L343.70,392.10 L341.60,390.00 Z" fill="#2a7a2a"/>
<path d="M349.80,387.90 L351.90,390.00 L349.80,392.10 L347.70,390.00 Z" fill="#2a7a2a"/>
<path d="M355.80,403.90 L357.90,406.00 L355.80,408.10 L353.70,406.00 Z" fill="#2a7a2a"/>
<circle cx="301.30" cy="385.00" r="1.90" fill="#000"/>
<circle cx="307.50" cy="388.00" r="1.90" fill="#000"/>
<circle cx="313.50" cy="389.00" r="1.90" fill="#000"/>
<circle cx="319.80" cy="386.20" r="1.90" fill="#000"/>
<circle cx="325.60" cy="392.50" r="1.90" fill="#000"/>
<circle cx="331.40" cy="407.80" r="1.90" fill="#000"/>
<circle cx="337.70" cy="440.70" r="1.90" fill="#000"/>
<circle cx="343.70" cy="466.00" r="1.90" fill="#000"/>
<circle cx="349.80" cy="471.00" r="1.90" fill="#000"/>
<circle cx="355.80" cy="472.00" r="1.90" fill="#000"/>
<path d="M301.30,382.80 L303.50,386.76 L299.10,386.76 Z" fill="#1a5870"/>
<path d="M307.50,386.80 L309.70,390.76 L305.30,390.76 Z" fill="#1a5870"/>
<path d="M313.50,385.10 L315.70,389.06 L311.30,389.06 Z" fill="#1a5870"/>
<path d="M319.80,389.10 L322.00,393.06 L317.60,393.06 Z" fill="#1a5870"/>
<path d="M325.60,390.30 L327.80,394.26 L323.40,394.26 Z" fill="#1a5870"/>
<path d="M331.90,396.60 L334.10,400.56 L329.70,400.56 Z" fill="#1a5870"/>
<path d="M337.70,412.10 L339.90,416.06 L335.50,416.06 Z" fill="#1a5870"/>
<path d="M343.70,442.30 L345.90,446.26 L341.50,446.26 Z" fill="#1a5870"/>
<path d="M349.80,454.80 L352.00,458.76 L347.60,458.76 Z" fill="#1a5870"/>
<path d="M355.80,461.10 L358.00,465.06 L353.60,465.06 Z" fill="#1a5870"/>
<path d="M301.30,391.20 L303.50,387.24 L299.10,387.24 Z" fill="#3d9a96"/>
<path d="M307.50,392.20 L309.70,388.24 L305.30,388.24 Z" fill="#3d9a96"/>
<path d="M313.50,395.30 L315.70,391.34 L311.30,391.34 Z" fill="#3d9a96"/>
<path d="M319.60,397.20 L321.80,393.24 L317.40,393.24 Z" fill="#3d9a96"/>
<path d="M325.60,422.60 L327.80,418.64 L323.40,418.64 Z" fill="#3d9a96"/>
<path d="M331.70,449.00 L333.90,445.04 L329.50,445.04 Z" fill="#3d9a96"/>
<path d="M337.70,466.30 L339.90,462.34 L335.50,462.34 Z" fill="#3d9a96"/>
<path d="M343.70,472.20 L345.90,468.24 L341.50,468.24 Z" fill="#3d9a96"/>
<path d="M349.80,474.60 L352.00,470.64 L347.60,470.64 Z" fill="#3d9a96"/>
<path d="M355.80,474.90 L358.00,470.94 L353.60,470.94 Z" fill="#3d9a96"/>
<rect x="286.95" y="381.25" width="3.50" height="3.50" fill="#4d9fff"/>
<rect x="293.05" y="388.25" width="3.50" height="3.50" fill="#4d9fff"/>
<rect x="299.05" y="389.55" width="3.50" height="3.50" fill="#4d9fff"/>
<rect x="305.05" y="401.75" width="3.50" height="3.50" fill="#4d9fff"/>
<rect x="311.15" y="416.15" width="3.50" height="3.50" fill="#4d9fff"/>
<rect x="317.15" y="441.95" width="3.50" height="3.50" fill="#4d9fff"/>
<rect x="323.15" y="457.85" width="3.50" height="3.50" fill="#4d9fff"/>
<rect x="329.15" y="463.85" width="3.50" height="3.50" fill="#4d9fff"/>
<rect x="335.25" y="467.15" width="3.50" height="3.50" fill="#4d9fff"/>
<rect x="341.25" y="469.15" width="3.50" height="3.50" fill="#4d9fff"/>
<circle cx="288.70" cy="383.60" r="1.90" fill="#d4944a"/>
<circle cx="294.80" cy="394.20" r="1.90" fill="#d4944a"/>
<circle cx="300.80" cy="387.30" r="1.90" fill="#d4944a"/>
<circle cx="306.80" cy="392.50" r="1.90" fill="#d4944a"/>
<circle cx="312.90" cy="412.70" r="1.90" fill="#d4944a"/>
<circle cx="318.90" cy="441.00" r="1.90" fill="#d4944a"/>
<circle cx="324.90" cy="465.60" r="1.90" fill="#d4944a"/>
<circle cx="330.90" cy="463.00" r="1.90" fill="#d4944a"/>
<circle cx="337.00" cy="467.10" r="1.90" fill="#d4944a"/>
<circle cx="343.00" cy="469.40" r="1.90" fill="#d4944a"/>
<line x1="279.70" y1="346.90" x2="279.70" y2="475.00" stroke="#222" stroke-width="1.4" />
<line x1="279.00" y1="474.30" x2="381.60" y2="474.30" stroke="#222" stroke-width="1.4" />
<line x1="277.10" y1="474.20" x2="279.70" y2="474.20" stroke="#222" stroke-width="1.2" />
<text x="275.40" y="476.80" font-size="7.3" text-anchor="end" fill="#0e0e0e" font-weight="normal" font-style="normal" transform="translate(275.40 476.80) scale(1 1.05) translate(-275.40 -476.80)" >0</text>
<line x1="277.10" y1="431.90" x2="279.70" y2="431.90" stroke="#222" stroke-width="1.2" />
<text x="275.40" y="434.50" font-size="7.3" text-anchor="end" fill="#0e0e0e" font-weight="normal" font-style="normal" transform="translate(275.40 434.50) scale(1 1.05) translate(-275.40 -434.50)" >50</text>
<line x1="277.10" y1="389.60" x2="279.70" y2="389.60" stroke="#222" stroke-width="1.2" />
<text x="275.40" y="392.20" font-size="7.3" text-anchor="end" fill="#0e0e0e" font-weight="normal" font-style="normal" transform="translate(275.40 392.20) scale(1 1.05) translate(-275.40 -392.20)" >100</text>
<line x1="277.10" y1="347.30" x2="279.70" y2="347.30" stroke="#222" stroke-width="1.2" />
<text x="275.40" y="349.90" font-size="7.3" text-anchor="end" fill="#0e0e0e" font-weight="normal" font-style="normal" transform="translate(275.40 349.90) scale(1 1.05) translate(-275.40 -349.90)" >150</text>
<line x1="278.40" y1="453.05" x2="279.70" y2="453.05" stroke="#222" stroke-width="1.0" />
<line x1="278.40" y1="410.75" x2="279.70" y2="410.75" stroke="#222" stroke-width="1.0" />
<line x1="278.40" y1="368.45" x2="279.70" y2="368.45" stroke="#222" stroke-width="1.0" />
<line x1="280.20" y1="474.30" x2="280.20" y2="477.00" stroke="#222" stroke-width="1.2" />
<text x="279.40" y="486.30" font-size="7.4" text-anchor="middle" fill="#0e0e0e" font-weight="normal" font-style="normal" transform="translate(279.40 486.30) scale(1 1.05) translate(-279.40 -486.30)" >&#8722;2</text>
<line x1="305.43" y1="474.30" x2="305.43" y2="477.00" stroke="#222" stroke-width="1.2" />
<text x="305.43" y="486.30" font-size="7.4" text-anchor="middle" fill="#0e0e0e" font-weight="normal" font-style="normal" transform="translate(305.43 486.30) scale(1 1.05) translate(-305.43 -486.30)" >0</text>
<line x1="330.65" y1="474.30" x2="330.65" y2="477.00" stroke="#222" stroke-width="1.2" />
<text x="330.65" y="486.30" font-size="7.4" text-anchor="middle" fill="#0e0e0e" font-weight="normal" font-style="normal" transform="translate(330.65 486.30) scale(1 1.05) translate(-330.65 -486.30)" >2</text>
<line x1="355.88" y1="474.30" x2="355.88" y2="477.00" stroke="#222" stroke-width="1.2" />
<text x="355.88" y="486.30" font-size="7.4" text-anchor="middle" fill="#0e0e0e" font-weight="normal" font-style="normal" transform="translate(355.88 486.30) scale(1 1.05) translate(-355.88 -486.30)" >4</text>
<line x1="381.10" y1="474.30" x2="381.10" y2="477.00" stroke="#222" stroke-width="1.2" />
<text x="381.10" y="486.30" font-size="7.4" text-anchor="middle" fill="#0e0e0e" font-weight="normal" font-style="normal" transform="translate(381.10 486.30) scale(1 1.05) translate(-381.10 -486.30)" >6</text>
<text x="330.45" y="495.00" font-size="7.7" text-anchor="middle" fill="#0e0e0e" font-weight="normal" font-style="normal" transform="translate(330.45 495.00) scale(1 1.05) translate(-330.45 -495.00)" >Log inhibitor (nmol/L)</text>
<text x="259.90" y="409.30" font-size="7.8" text-anchor="middle" fill="#0e0e0e" font-weight="normal" font-style="normal" transform="rotate(-90 259.90 409.30) translate(259.90 409.30) scale(1 1.05) translate(-259.90 -409.30)" >Viability (%)</text>
<text x="380.80" y="335.20" font-size="11" text-anchor="start" fill="#000" font-weight="bold" font-style="normal" transform="translate(380.80 335.20) scale(1 1.05) translate(-380.80 -335.20)" >I</text>
<text x="451.40" y="336.30" font-size="7.4" text-anchor="middle" fill="#0e0e0e" font-weight="normal" font-style="normal" transform="translate(451.40 336.30) scale(1 1.05) translate(-451.40 -336.30)" >MeWo</text>
<text x="435.10" y="345.40" font-size="7.4" text-anchor="start" fill="#0e0e0e" font-weight="normal" font-style="italic" transform="translate(435.10 345.40) scale(1 1.05) translate(-435.10 -345.40)" >NF1<tspan font-size="5.3" font-style="normal" dy="-3.1">Q1336*</tspan></text>
<path d="M425.0,391.1 L425.8,391.1 L426.5,391.1 L427.3,391.1 L428.1,391.1 L428.9,391.1 L429.6,391.1 L430.4,391.1 L431.2,391.1 L431.9,391.1 L432.7,391.1 L433.5,391.1 L434.3,391.1 L435.0,391.1 L435.8,391.1 L436.6,391.1 L437.3,391.1 L438.1,391.1 L438.9,391.1 L439.6,391.1 L440.4,391.1 L441.2,391.1 L442.0,391.1 L442.7,391.1 L443.5,391.1 L444.3,391.1 L445.0,391.1 L445.8,391.1 L446.6,391.1 L447.4,391.1 L448.1,391.1 L448.9,391.1 L449.7,391.1 L450.4,391.1 L451.2,391.1 L452.0,391.1 L452.8,391.2 L453.5,391.2 L454.3,391.2 L455.1,391.2 L455.8,391.2 L456.6,391.2 L457.4,391.2 L458.2,391.2 L458.9,391.2 L459.7,391.2 L460.5,391.3 L461.2,391.3 L462.0,391.3 L462.8,391.4 L463.6,391.5 L464.3,391.5 L465.1,391.6 L465.9,391.8 L466.6,391.9 L467.4,392.1 L468.2,392.3 L468.9,392.6 L469.7,392.9 L470.5,393.3 L471.3,393.9 L472.0,394.5 L472.8,395.3 L473.6,396.2 L474.3,397.4 L475.1,398.8 L475.9,400.5 L476.7,402.6 L477.4,405.0 L478.2,407.9" fill="none" stroke="#2a7a2a" stroke-width="1.15"/>
<path d="M425.0,387.7 L425.8,387.7 L426.5,387.7 L427.3,387.7 L428.1,387.7 L428.9,387.7 L429.6,387.7 L430.4,387.7 L431.2,387.7 L431.9,387.7 L432.7,387.7 L433.5,387.7 L434.3,387.7 L435.0,387.7 L435.8,387.7 L436.6,387.7 L437.3,387.7 L438.1,387.7 L438.9,387.7 L439.6,387.7 L440.4,387.7 L441.2,387.7 L442.0,387.7 L442.7,387.7 L443.5,387.7 L444.3,387.7 L445.0,387.7 L445.8,387.7 L446.6,387.7 L447.4,387.7 L448.1,387.7 L448.9,387.7 L449.7,387.7 L450.4,387.7 L451.2,387.7 L452.0,387.7 L452.8,387.7 L453.5,387.7 L454.3,387.7 L455.1,387.7 L455.8,387.7 L456.6,387.7 L457.4,387.7 L458.2,387.8 L458.9,387.9 L459.7,388.6 L460.5,391.9 L461.2,404.7 L462.0,431.5 L462.8,451.7 L463.6,458.2 L464.3,459.7 L465.1,460.0 L465.9,460.1 L466.6,460.1 L467.4,460.1 L468.2,460.1 L468.9,460.1 L469.7,460.1 L470.5,460.1 L471.3,460.1 L472.0,460.1 L472.8,460.1 L473.6,460.1 L474.3,460.1 L475.1,460.1 L475.9,460.1 L476.7,460.1 L477.4,460.1 L478.2,460.1" fill="none" stroke="#6b2a2a" stroke-width="1.15"/>
<path d="M425.0,391.6 L425.8,391.6 L426.5,391.6 L427.3,391.6 L428.1,391.6 L428.9,391.6 L429.6,391.6 L430.4,391.6 L431.2,391.6 L431.9,391.6 L432.7,391.6 L433.5,391.6 L434.3,391.6 L435.0,391.6 L435.8,391.6 L436.6,391.6 L437.3,391.6 L438.1,391.6 L438.9,391.7 L439.6,391.7 L440.4,391.7 L441.2,391.7 L442.0,391.7 L442.7,391.7 L443.5,391.8 L444.3,391.8 L445.0,391.8 L445.8,391.9 L446.6,391.9 L447.4,392.0 L448.1,392.1 L448.9,392.2 L449.7,392.3 L450.4,392.5 L451.2,392.7 L452.0,392.9 L452.8,393.2 L453.5,393.5 L454.3,393.8 L455.1,394.3 L455.8,394.8 L456.6,395.5 L457.4,396.2 L458.2,397.1 L458.9,398.1 L459.7,399.3 L460.5,400.7 L461.2,402.3 L462.0,404.1 L462.8,406.0 L463.6,408.3 L464.3,410.7 L465.1,413.3 L465.9,416.0 L466.6,418.9 L467.4,421.8 L468.2,424.7 L468.9,427.6 L469.7,430.4 L470.5,433.0 L471.3,435.5 L472.0,437.8 L472.8,439.9 L473.6,441.8 L474.3,443.5 L475.1,445.0 L475.9,446.2 L476.7,447.3 L477.4,448.3 L478.2,449.1" fill="none" stroke="#1a5870" stroke-width="1.15"/>
<path d="M425.0,392.2 L425.8,392.2 L426.5,392.2 L427.3,392.2 L428.1,392.2 L428.9,392.2 L429.6,392.2 L430.4,392.2 L431.2,392.2 L431.9,392.2 L432.7,392.2 L433.5,392.3 L434.3,392.3 L435.0,392.3 L435.8,392.4 L436.6,392.4 L437.3,392.5 L438.1,392.6 L438.9,392.7 L439.6,392.8 L440.4,392.9 L441.2,393.1 L442.0,393.3 L442.7,393.6 L443.5,393.9 L444.3,394.3 L445.0,394.8 L445.8,395.3 L446.6,396.0 L447.4,396.8 L448.1,397.8 L448.9,399.0 L449.7,400.4 L450.4,402.0 L451.2,403.9 L452.0,406.1 L452.8,408.5 L453.5,411.3 L454.3,414.3 L455.1,417.5 L455.8,421.0 L456.6,424.6 L457.4,428.3 L458.2,432.0 L458.9,435.6 L459.7,439.1 L460.5,442.3 L461.2,445.3 L462.0,448.1 L462.8,450.5 L463.6,452.6 L464.3,454.5 L465.1,456.1 L465.9,457.5 L466.6,458.6 L467.4,459.6 L468.2,460.4 L468.9,461.1 L469.7,461.7 L470.5,462.1 L471.3,462.5 L472.0,462.8 L472.8,463.1 L473.6,463.3 L474.3,463.5 L475.1,463.6 L475.9,463.7 L476.7,463.8 L477.4,463.9 L478.2,464.0" fill="none" stroke="#3d9a96" stroke-width="1.15"/>
<path d="M412.7,390.2 L413.5,390.2 L414.2,390.2 L415.0,390.2 L415.8,390.2 L416.6,390.2 L417.3,390.3 L418.1,390.3 L418.9,390.3 L419.6,390.3 L420.4,390.4 L421.2,390.4 L422.0,390.5 L422.7,390.5 L423.5,390.6 L424.3,390.7 L425.0,390.8 L425.8,390.9 L426.6,391.0 L427.3,391.2 L428.1,391.4 L428.9,391.6 L429.7,391.9 L430.4,392.2 L431.2,392.6 L432.0,393.0 L432.7,393.6 L433.5,394.2 L434.3,394.9 L435.1,395.8 L435.8,396.8 L436.6,397.9 L437.4,399.3 L438.1,400.8 L438.9,402.5 L439.7,404.4 L440.5,406.5 L441.2,408.8 L442.0,411.4 L442.8,414.1 L443.5,416.9 L444.3,419.9 L445.1,422.9 L445.9,426.0 L446.6,429.0 L447.4,432.0 L448.2,434.9 L448.9,437.6 L449.7,440.1 L450.5,442.4 L451.3,444.5 L452.0,446.5 L452.8,448.2 L453.6,449.7 L454.3,451.0 L455.1,452.1 L455.9,453.1 L456.6,454.0 L457.4,454.7 L458.2,455.4 L459.0,455.9 L459.7,456.4 L460.5,456.7 L461.3,457.1 L462.0,457.3 L462.8,457.6 L463.6,457.8 L464.4,457.9 L465.1,458.1 L465.9,458.2" fill="none" stroke="#4d9fff" stroke-width="1.15"/>
<path d="M412.7,393.0 L413.5,393.0 L414.2,393.0 L415.0,393.0 L415.8,393.0 L416.6,393.0 L417.3,393.0 L418.1,393.0 L418.9,393.0 L419.6,393.0 L420.4,393.0 L421.2,393.0 L422.0,393.0 L422.7,393.0 L423.5,393.0 L424.3,393.0 L425.0,393.0 L425.8,393.0 L426.6,393.1 L427.3,393.1 L428.1,393.1 L428.9,393.1 L429.7,393.2 L430.4,393.3 L431.2,393.4 L432.0,393.5 L432.7,393.7 L433.5,394.0 L434.3,394.3 L435.1,394.8 L435.8,395.6 L436.6,396.5 L437.4,397.8 L438.1,399.6 L438.9,401.8 L439.7,404.7 L440.5,408.2 L441.2,412.4 L442.0,417.1 L442.8,422.2 L443.5,427.2 L444.3,432.1 L445.1,436.5 L445.9,440.3 L446.6,443.4 L447.4,445.9 L448.2,447.8 L448.9,449.3 L449.7,450.3 L450.5,451.1 L451.3,451.7 L452.0,452.1 L452.8,452.4 L453.6,452.7 L454.3,452.8 L455.1,452.9 L455.9,453.0 L456.6,453.1 L457.4,453.1 L458.2,453.1 L459.0,453.2 L459.7,453.2 L460.5,453.2 L461.3,453.2 L462.0,453.2 L462.8,453.2 L463.6,453.2 L464.4,453.2 L465.1,453.2 L465.9,453.2" fill="none" stroke="#d4944a" stroke-width="1.15"/>
<path d="M431.10,380.60V392.00M429.60,380.60H432.60M429.60,392.00H432.60" stroke="#6b2a2a" stroke-width="0.9" stroke-opacity="0.8" fill="none"/>
<path d="M466.20,415.00V423.00M464.70,415.00H467.70M464.70,423.00H467.70" stroke="#1a5870" stroke-width="0.9" stroke-opacity="0.8" fill="none"/>
<path d="M471.90,431.80V439.80M470.40,431.80H473.40M470.40,439.80H473.40" stroke="#1a5870" stroke-width="0.9" stroke-opacity="0.8" fill="none"/>
<path d="M478.20,402.00V414.80M476.70,402.00H479.70M476.70,414.80H479.70" stroke="#2a7a2a" stroke-width="0.9" stroke-opacity="0.8" fill="none"/>
<path d="M454.80,413.50V419.50M453.30,413.50H456.30M453.30,419.50H456.30" stroke="#3d9a96" stroke-width="0.9" stroke-opacity="0.8" fill="none"/>
<path d="M460.40,440.50V447.00M458.90,440.50H461.90M458.90,447.00H461.90" stroke="#3d9a96" stroke-width="0.9" stroke-opacity="0.8" fill="none"/>
<path d="M442.30,413.50V419.50M440.80,413.50H443.80M440.80,419.50H443.80" stroke="#4d9fff" stroke-width="0.9" stroke-opacity="0.8" fill="none"/>
<path d="M443.00,390.50V397.50M441.50,390.50H444.50M441.50,397.50H444.50" stroke="#3d9a96" stroke-width="0.9" stroke-opacity="0.8" fill="none"/>
<path d="M437.20,383.50V390.00M435.70,383.50H438.70M435.70,390.00H438.70" stroke="#6b2a2a" stroke-width="0.9" stroke-opacity="0.8" fill="none"/>
<path d="M425.00,388.90 L427.10,391.00 L425.00,393.10 L422.90,391.00 Z" fill="#2a7a2a"/>
<path d="M431.00,388.90 L433.10,391.00 L431.00,393.10 L428.90,391.00 Z" fill="#2a7a2a"/>
<path d="M437.00,388.90 L439.10,391.00 L437.00,393.10 L434.90,391.00 Z" fill="#2a7a2a"/>
<path d="M443.00,388.90 L445.10,391.00 L443.00,393.10 L440.90,391.00 Z" fill="#2a7a2a"/>
<path d="M448.80,388.90 L450.90,391.00 L448.80,393.10 L446.70,391.00 Z" fill="#2a7a2a"/>
<path d="M454.50,388.90 L456.60,391.00 L454.50,393.10 L452.40,391.00 Z" fill="#2a7a2a"/>
<path d="M460.40,388.90 L462.50,391.00 L460.40,393.10 L458.30,391.00 Z" fill="#2a7a2a"/>
<path d="M465.90,391.30 L468.00,393.40 L465.90,395.50 L463.80,393.40 Z" fill="#2a7a2a"/>
<path d="M471.90,391.70 L474.00,393.80 L471.90,395.90 L469.80,393.80 Z" fill="#2a7a2a"/>
<path d="M478.20,405.90 L480.30,408.00 L478.20,410.10 L476.10,408.00 Z" fill="#2a7a2a"/>
<circle cx="425.00" cy="388.10" r="1.90" fill="#000"/>
<circle cx="431.10" cy="386.30" r="1.90" fill="#000"/>
<circle cx="437.20" cy="386.90" r="1.90" fill="#000"/>
<circle cx="443.20" cy="385.20" r="1.90" fill="#000"/>
<circle cx="448.80" cy="388.10" r="1.90" fill="#000"/>
<circle cx="454.80" cy="391.70" r="1.90" fill="#000"/>
<circle cx="460.40" cy="391.40" r="1.90" fill="#000"/>
<circle cx="465.90" cy="460.10" r="1.90" fill="#000"/>
<circle cx="471.90" cy="460.10" r="1.90" fill="#000"/>
<circle cx="478.20" cy="460.10" r="1.90" fill="#000"/>
<path d="M425.00,389.80 L427.20,393.76 L422.80,393.76 Z" fill="#1a5870"/>
<path d="M431.00,389.80 L433.20,393.76 L428.80,393.76 Z" fill="#1a5870"/>
<path d="M437.00,389.80 L439.20,393.76 L434.80,393.76 Z" fill="#1a5870"/>
<path d="M443.00,389.80 L445.20,393.76 L440.80,393.76 Z" fill="#1a5870"/>
<path d="M448.80,389.80 L451.00,393.76 L446.60,393.76 Z" fill="#1a5870"/>
<path d="M454.50,390.80 L456.70,394.76 L452.30,394.76 Z" fill="#1a5870"/>
<path d="M460.40,397.20 L462.60,401.16 L458.20,401.16 Z" fill="#1a5870"/>
<path d="M466.20,416.90 L468.40,420.86 L464.00,420.86 Z" fill="#1a5870"/>
<path d="M471.90,433.60 L474.10,437.56 L469.70,437.56 Z" fill="#1a5870"/>
<path d="M478.20,447.60 L480.40,451.56 L476.00,451.56 Z" fill="#1a5870"/>
<path d="M425.00,394.20 L427.20,390.24 L422.80,390.24 Z" fill="#3d9a96"/>
<path d="M431.00,395.20 L433.20,391.24 L428.80,391.24 Z" fill="#3d9a96"/>
<path d="M437.00,395.20 L439.20,391.24 L434.80,391.24 Z" fill="#3d9a96"/>
<path d="M443.00,396.20 L445.20,392.24 L440.80,392.24 Z" fill="#3d9a96"/>
<path d="M448.40,398.40 L450.60,394.44 L446.20,394.44 Z" fill="#3d9a96"/>
<path d="M454.80,418.70 L457.00,414.74 L452.60,414.74 Z" fill="#3d9a96"/>
<path d="M460.40,446.00 L462.60,442.04 L458.20,442.04 Z" fill="#3d9a96"/>
<path d="M465.90,457.20 L468.10,453.24 L463.70,453.24 Z" fill="#3d9a96"/>
<path d="M471.90,462.30 L474.10,458.34 L469.70,458.34 Z" fill="#3d9a96"/>
<path d="M478.20,470.00 L480.40,466.04 L476.00,466.04 Z" fill="#3d9a96"/>
<rect x="410.95" y="389.75" width="3.50" height="3.50" fill="#4d9fff"/>
<rect x="417.05" y="387.45" width="3.50" height="3.50" fill="#4d9fff"/>
<rect x="423.05" y="391.55" width="3.50" height="3.50" fill="#4d9fff"/>
<rect x="429.05" y="390.95" width="3.50" height="3.50" fill="#4d9fff"/>
<rect x="435.15" y="390.35" width="3.50" height="3.50" fill="#4d9fff"/>
<rect x="440.55" y="414.75" width="3.50" height="3.50" fill="#4d9fff"/>
<rect x="446.75" y="434.45" width="3.50" height="3.50" fill="#4d9fff"/>
<rect x="452.55" y="446.35" width="3.50" height="3.50" fill="#4d9fff"/>
<rect x="458.65" y="454.05" width="3.50" height="3.50" fill="#4d9fff"/>
<rect x="464.15" y="459.15" width="3.50" height="3.50" fill="#4d9fff"/>
<circle cx="412.70" cy="393.80" r="1.90" fill="#d4944a"/>
<circle cx="418.80" cy="392.50" r="1.90" fill="#d4944a"/>
<circle cx="424.80" cy="391.00" r="1.90" fill="#d4944a"/>
<circle cx="430.80" cy="396.20" r="1.90" fill="#d4944a"/>
<circle cx="436.90" cy="395.60" r="1.90" fill="#d4944a"/>
<circle cx="442.30" cy="419.40" r="1.90" fill="#d4944a"/>
<circle cx="448.50" cy="449.00" r="1.90" fill="#d4944a"/>
<circle cx="454.30" cy="445.60" r="1.90" fill="#d4944a"/>
<circle cx="460.40" cy="454.60" r="1.90" fill="#d4944a"/>
<circle cx="465.90" cy="458.40" r="1.90" fill="#d4944a"/>
<line x1="404.30" y1="350.40" x2="404.30" y2="474.60" stroke="#222" stroke-width="1.4" />
<line x1="403.60" y1="473.90" x2="503.50" y2="473.90" stroke="#222" stroke-width="1.4" />
<line x1="401.70" y1="473.80" x2="404.30" y2="473.80" stroke="#222" stroke-width="1.2" />
<text x="400.00" y="476.40" font-size="7.3" text-anchor="end" fill="#0e0e0e" font-weight="normal" font-style="normal" transform="translate(400.00 476.40) scale(1 1.05) translate(-400.00 -476.40)" >0</text>
<line x1="401.70" y1="432.90" x2="404.30" y2="432.90" stroke="#222" stroke-width="1.2" />
<text x="400.00" y="435.50" font-size="7.3" text-anchor="end" fill="#0e0e0e" font-weight="normal" font-style="normal" transform="translate(400.00 435.50) scale(1 1.05) translate(-400.00 -435.50)" >50</text>
<line x1="401.70" y1="392.00" x2="404.30" y2="392.00" stroke="#222" stroke-width="1.2" />
<text x="400.00" y="394.60" font-size="7.3" text-anchor="end" fill="#0e0e0e" font-weight="normal" font-style="normal" transform="translate(400.00 394.60) scale(1 1.05) translate(-400.00 -394.60)" >100</text>
<line x1="401.70" y1="351.10" x2="404.30" y2="351.10" stroke="#222" stroke-width="1.2" />
<text x="400.00" y="353.70" font-size="7.3" text-anchor="end" fill="#0e0e0e" font-weight="normal" font-style="normal" transform="translate(400.00 353.70) scale(1 1.05) translate(-400.00 -353.70)" >150</text>
<line x1="403.00" y1="453.35" x2="404.30" y2="453.35" stroke="#222" stroke-width="1.0" />
<line x1="403.00" y1="412.45" x2="404.30" y2="412.45" stroke="#222" stroke-width="1.0" />
<line x1="403.00" y1="371.55" x2="404.30" y2="371.55" stroke="#222" stroke-width="1.0" />
<line x1="404.80" y1="473.90" x2="404.80" y2="476.60" stroke="#222" stroke-width="1.2" />
<text x="404.00" y="486.30" font-size="7.4" text-anchor="middle" fill="#0e0e0e" font-weight="normal" font-style="normal" transform="translate(404.00 486.30) scale(1 1.05) translate(-404.00 -486.30)" >&#8722;2</text>
<line x1="429.35" y1="473.90" x2="429.35" y2="476.60" stroke="#222" stroke-width="1.2" />
<text x="429.35" y="486.30" font-size="7.4" text-anchor="middle" fill="#0e0e0e" font-weight="normal" font-style="normal" transform="translate(429.35 486.30) scale(1 1.05) translate(-429.35 -486.30)" >0</text>
<line x1="453.90" y1="473.90" x2="453.90" y2="476.60" stroke="#222" stroke-width="1.2" />
<text x="453.90" y="486.30" font-size="7.4" text-anchor="middle" fill="#0e0e0e" font-weight="normal" font-style="normal" transform="translate(453.90 486.30) scale(1 1.05) translate(-453.90 -486.30)" >2</text>
<line x1="478.45" y1="473.90" x2="478.45" y2="476.60" stroke="#222" stroke-width="1.2" />
<text x="478.45" y="486.30" font-size="7.4" text-anchor="middle" fill="#0e0e0e" font-weight="normal" font-style="normal" transform="translate(478.45 486.30) scale(1 1.05) translate(-478.45 -486.30)" >4</text>
<line x1="503.00" y1="473.90" x2="503.00" y2="476.60" stroke="#222" stroke-width="1.2" />
<text x="503.00" y="486.30" font-size="7.4" text-anchor="middle" fill="#0e0e0e" font-weight="normal" font-style="normal" transform="translate(503.00 486.30) scale(1 1.05) translate(-503.00 -486.30)" >6</text>
<text x="453.70" y="495.00" font-size="7.7" text-anchor="middle" fill="#0e0e0e" font-weight="normal" font-style="normal" transform="translate(453.70 495.00) scale(1 1.05) translate(-453.70 -495.00)" >Log inhibitor (nmol/L)</text>
<text x="384.50" y="410.85" font-size="7.8" text-anchor="middle" fill="#0e0e0e" font-weight="normal" font-style="normal" transform="rotate(-90 384.50 410.85) translate(384.50 410.85) scale(1 1.05) translate(-384.50 -410.85)" >Viability (%)</text>
<line x1="472.20" y1="334.80" x2="478.20" y2="334.80" stroke="#d4944a" stroke-width="1.0" />
<circle cx="475.20" cy="334.80" r="1.90" fill="#d4944a"/>
<text x="480.70" y="337.30" font-size="6.9" text-anchor="start" fill="#0e0e0e" font-weight="normal" font-style="normal" transform="translate(480.70 337.30) scale(1 1.05) translate(-480.70 -337.30)" >NST-628</text>
<line x1="472.20" y1="344.55" x2="478.20" y2="344.55" stroke="#4d9fff" stroke-width="1.0" />
<rect x="473.45" y="342.80" width="3.50" height="3.50" fill="#4d9fff"/>
<text x="480.70" y="347.05" font-size="6.9" text-anchor="start" fill="#0e0e0e" font-weight="normal" font-style="normal" transform="translate(480.70 347.05) scale(1 1.05) translate(-480.70 -347.05)" >Trametinib</text>
<line x1="472.20" y1="354.30" x2="478.20" y2="354.30" stroke="#1a5870" stroke-width="1.0" />
<path d="M475.20,352.10 L477.40,356.06 L473.00,356.06 Z" fill="#1a5870"/>
<text x="480.70" y="356.80" font-size="6.9" text-anchor="start" fill="#0e0e0e" font-weight="normal" font-style="normal" transform="translate(480.70 356.80) scale(1 1.05) translate(-480.70 -356.80)" >Avutometinib</text>
<line x1="472.20" y1="364.05" x2="478.20" y2="364.05" stroke="#3d9a96" stroke-width="1.0" />
<path d="M475.20,366.25 L477.40,362.29 L473.00,362.29 Z" fill="#3d9a96"/>
<text x="480.70" y="366.55" font-size="6.9" text-anchor="start" fill="#0e0e0e" font-weight="normal" font-style="normal" transform="translate(480.70 366.55) scale(1 1.05) translate(-480.70 -366.55)" >Cobimetinib</text>
<line x1="472.20" y1="373.80" x2="478.20" y2="373.80" stroke="#6b2a2a" stroke-width="1.0" />
<circle cx="475.20" cy="373.80" r="1.90" fill="#000"/>
<text x="480.70" y="376.30" font-size="6.9" text-anchor="start" fill="#0e0e0e" font-weight="normal" font-style="normal" transform="translate(480.70 376.30) scale(1 1.05) translate(-480.70 -376.30)" >Belvarafenib</text>
<line x1="472.20" y1="383.55" x2="478.20" y2="383.55" stroke="#2a7a2a" stroke-width="1.0" />
<path d="M475.20,381.45 L477.30,383.55 L475.20,385.65 L473.10,383.55 Z" fill="#2a7a2a"/>
<text x="480.70" y="386.05" font-size="6.9" text-anchor="start" fill="#0e0e0e" font-weight="normal" font-style="normal" transform="translate(480.70 386.05) scale(1 1.05) translate(-480.70 -386.05)" >Tovorafenib</text>
</svg></body></html>
